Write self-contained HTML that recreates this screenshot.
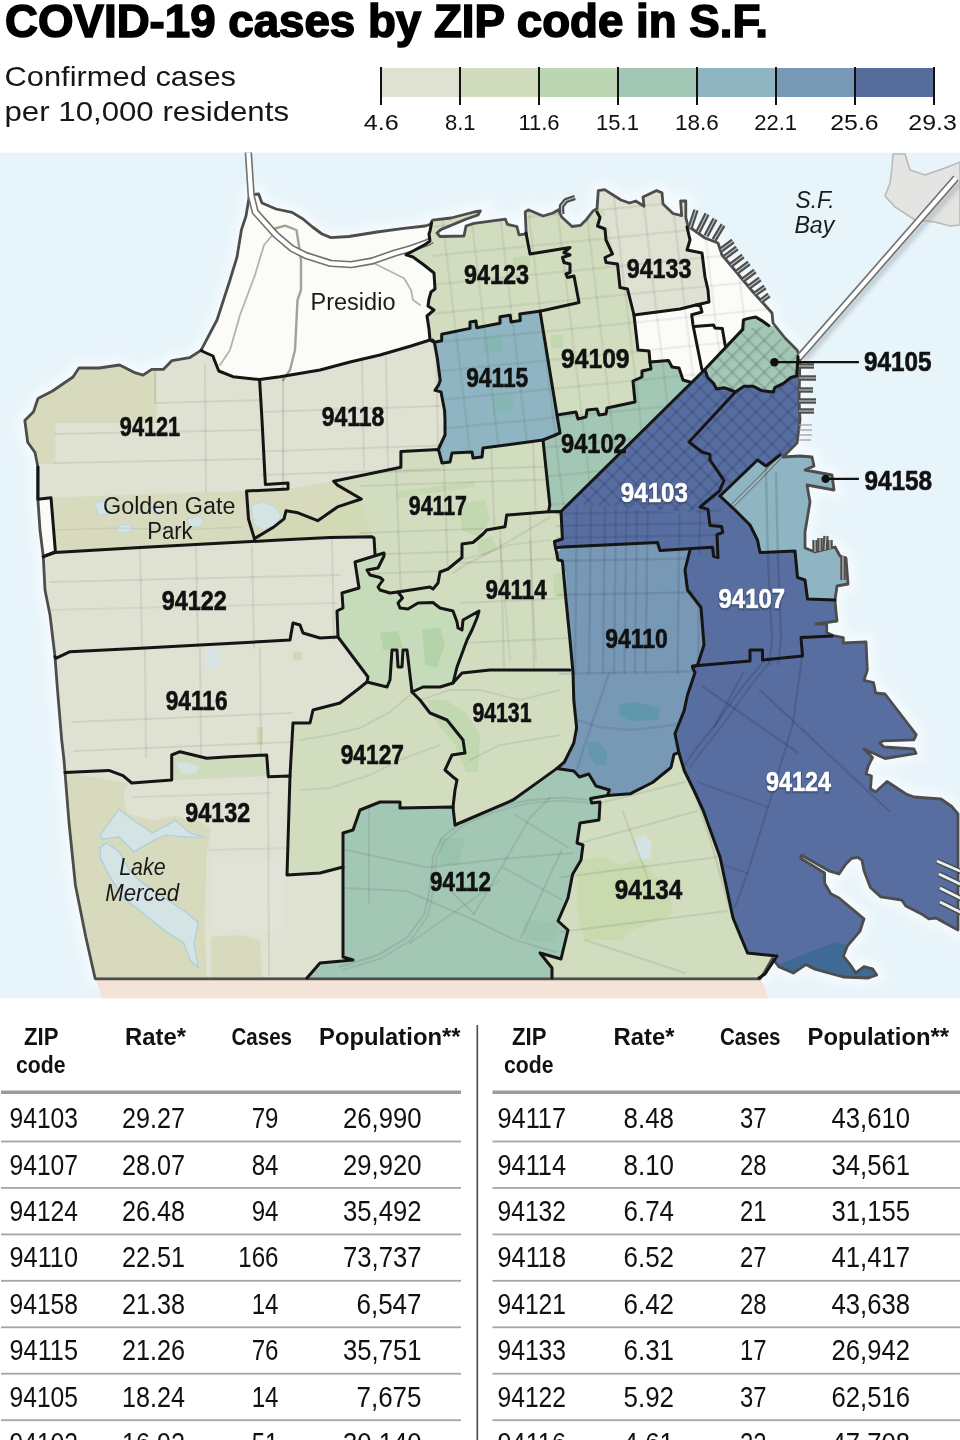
<!DOCTYPE html>
<html><head><meta charset="utf-8"><title>COVID-19 cases by ZIP code in S.F.</title>
<style>
html,body{margin:0;padding:0;background:#fff;}
body{width:960px;height:1440px;position:relative;overflow:hidden;font-family:"Liberation Sans",sans-serif;color:#111;}
.t{position:absolute;white-space:nowrap;transform-origin:0 0;}
#title{left:4px;top:-7.5px;font-size:46px;font-weight:bold;letter-spacing:0px;-webkit-text-stroke:1.6px #000;color:#000;}
.sub{left:4px;font-size:26.5px;color:#161616;}
</style></head><body>
<svg width="960" height="1000" viewBox="0 0 960 1000" style="position:absolute;left:0;top:0">
<defs><clipPath id="mapclip"><rect x="0" y="152.5" width="960" height="846"/></clipPath><clipPath id="landclip"><polygon points="249.5,195.0 258.6,194.0 262.0,203.0 276.0,209.0 292.0,212.4 303.0,219.0 312.5,227.0 322.0,234.0 331.0,237.6 349.0,236.5 377.0,232.0 404.0,228.4 425.0,226.0 430.4,224.4 432.5,220.2 451.0,218.0 474.0,212.0 480.4,210.8 478.0,215.0 465.8,219.2 440.8,229.6 437.0,233.0 440.0,236.5 464.0,236.0 466.0,226.0 474.0,223.3 505.4,219.2 507.5,224.4 516.9,226.5 519.0,234.8 526.2,233.8 525.2,211.9 528.3,209.8 543.0,216.0 553.0,213.0 558.5,209.8 561.7,217.0 572.0,226.5 580.4,225.4 586.7,219.2 593.0,211.0 597.0,208.8 598.3,190.6 604.6,189.6 621.0,200.0 629.6,203.0 635.8,201.0 644.0,206.2 643.0,197.0 656.7,190.6 662.0,192.7 663.0,204.0 673.0,213.5 681.7,215.6 680.6,201.0 685.8,201.0 685.8,217.7 688.0,226.0 705.0,238.0 718.0,243.0 722.0,255.0 733.0,268.0 743.0,280.0 753.0,292.0 763.0,303.0 772.0,313.0 773.0,323.0 785.0,338.0 797.0,350.0 800.0,357.0 799.0,400.0 800.0,420.0 797.0,443.0 783.0,457.0 800.0,456.0 812.0,457.0 814.0,466.0 805.0,470.0 832.0,475.0 834.0,490.0 807.0,485.0 810.0,502.0 807.0,520.0 805.0,532.0 805.0,548.0 815.0,552.0 835.0,547.0 840.0,556.0 846.0,558.0 848.0,584.0 837.0,586.0 835.0,600.0 836.0,612.0 837.0,621.0 816.0,624.0 826.7,624.0 826.7,632.5 833.0,635.6 843.3,637.7 843.3,643.0 866.0,641.9 867.3,670.0 864.0,680.4 873.5,682.5 875.6,693.0 885.0,694.0 916.2,734.6 914.0,739.8 883.0,740.8 879.8,743.0 884.0,747.0 914.0,749.0 916.0,753.3 885.0,758.5 864.0,749.0 872.5,757.5 868.3,765.8 866.0,774.0 871.5,776.0 870.4,788.8 875.6,792.0 887.0,781.5 906.0,794.0 914.0,797.0 926.7,798.0 941.0,799.0 951.7,806.5 958.0,813.8 958.0,862.5 958.0,930.0 945.0,923.0 936.0,918.0 928.8,918.8 922.5,914.6 905.8,906.0 901.7,900.0 880.8,896.9 870.4,887.5 864.0,870.8 862.0,860.4 858.0,857.3 851.7,858.3 845.4,864.6 839.0,874.0 828.8,870.8 801.7,855.2 800.6,858.3 824.6,873.0 824.6,883.3 830.8,893.8 839.0,898.0 864.0,918.8 860.0,931.2 847.5,945.8 843.3,956.2 851.7,966.7 855.8,972.9 864.0,966.7 872.5,968.8 876.7,975.0 868.3,978.0 843.3,977.0 814.0,968.8 805.8,964.6 793.3,973.0 778.8,966.7 772.5,958.3 764.0,973.0 760.0,978.8 95.2,978.8 85.8,937.0 75.4,885.0 69.0,822.5 65.0,772.5 64.0,760.0 61.7,740.0 57.5,690.0 55.0,656.7 50.0,615.0 45.0,590.0 43.3,556.7 40.0,530.0 37.9,499.2 37.9,467.0 35.0,452.5 27.7,442.3 24.8,420.4 33.5,411.7 38.0,398.5 52.5,391.0 73.0,377.0 79.0,368.0 99.0,368.0 119.6,365.0 134.0,372.3 143.0,375.2 151.7,369.4 163.3,369.4 172.0,360.6 189.6,357.7 201.0,350.4 217.0,320.0 230.0,280.0 237.0,257.0 241.5,229.6 246.0,216.0"/></clipPath><filter id="blur2" x="-20%" y="-20%" width="140%" height="140%"><feGaussianBlur stdDeviation="2.2"/></filter><filter id="blur6" x="-10%" y="-10%" width="120%" height="120%"><feGaussianBlur stdDeviation="5"/></filter></defs>
<g clip-path="url(#mapclip)">
<rect x="0" y="152.5" width="960" height="846" fill="#e7f4fa"/>
<polygon points="249.5,195.0 258.6,194.0 262.0,203.0 276.0,209.0 292.0,212.4 303.0,219.0 312.5,227.0 322.0,234.0 331.0,237.6 349.0,236.5 377.0,232.0 404.0,228.4 425.0,226.0 430.4,224.4 432.5,220.2 451.0,218.0 474.0,212.0 480.4,210.8 478.0,215.0 465.8,219.2 440.8,229.6 437.0,233.0 440.0,236.5 464.0,236.0 466.0,226.0 474.0,223.3 505.4,219.2 507.5,224.4 516.9,226.5 519.0,234.8 526.2,233.8 525.2,211.9 528.3,209.8 543.0,216.0 553.0,213.0 558.5,209.8 561.7,217.0 572.0,226.5 580.4,225.4 586.7,219.2 593.0,211.0 597.0,208.8 598.3,190.6 604.6,189.6 621.0,200.0 629.6,203.0 635.8,201.0 644.0,206.2 643.0,197.0 656.7,190.6 662.0,192.7 663.0,204.0 673.0,213.5 681.7,215.6 680.6,201.0 685.8,201.0 685.8,217.7 688.0,226.0 705.0,238.0 718.0,243.0 722.0,255.0 733.0,268.0 743.0,280.0 753.0,292.0 763.0,303.0 772.0,313.0 773.0,323.0 785.0,338.0 797.0,350.0 800.0,357.0 799.0,400.0 800.0,420.0 797.0,443.0 783.0,457.0 800.0,456.0 812.0,457.0 814.0,466.0 805.0,470.0 832.0,475.0 834.0,490.0 807.0,485.0 810.0,502.0 807.0,520.0 805.0,532.0 805.0,548.0 815.0,552.0 835.0,547.0 840.0,556.0 846.0,558.0 848.0,584.0 837.0,586.0 835.0,600.0 836.0,612.0 837.0,621.0 816.0,624.0 826.7,624.0 826.7,632.5 833.0,635.6 843.3,637.7 843.3,643.0 866.0,641.9 867.3,670.0 864.0,680.4 873.5,682.5 875.6,693.0 885.0,694.0 916.2,734.6 914.0,739.8 883.0,740.8 879.8,743.0 884.0,747.0 914.0,749.0 916.0,753.3 885.0,758.5 864.0,749.0 872.5,757.5 868.3,765.8 866.0,774.0 871.5,776.0 870.4,788.8 875.6,792.0 887.0,781.5 906.0,794.0 914.0,797.0 926.7,798.0 941.0,799.0 951.7,806.5 958.0,813.8 958.0,862.5 958.0,930.0 945.0,923.0 936.0,918.0 928.8,918.8 922.5,914.6 905.8,906.0 901.7,900.0 880.8,896.9 870.4,887.5 864.0,870.8 862.0,860.4 858.0,857.3 851.7,858.3 845.4,864.6 839.0,874.0 828.8,870.8 801.7,855.2 800.6,858.3 824.6,873.0 824.6,883.3 830.8,893.8 839.0,898.0 864.0,918.8 860.0,931.2 847.5,945.8 843.3,956.2 851.7,966.7 855.8,972.9 864.0,966.7 872.5,968.8 876.7,975.0 868.3,978.0 843.3,977.0 814.0,968.8 805.8,964.6 793.3,973.0 778.8,966.7 772.5,958.3 764.0,973.0 760.0,978.8 95.2,978.8 85.8,937.0 75.4,885.0 69.0,822.5 65.0,772.5 64.0,760.0 61.7,740.0 57.5,690.0 55.0,656.7 50.0,615.0 45.0,590.0 43.3,556.7 40.0,530.0 37.9,499.2 37.9,467.0 35.0,452.5 27.7,442.3 24.8,420.4 33.5,411.7 38.0,398.5 52.5,391.0 73.0,377.0 79.0,368.0 99.0,368.0 119.6,365.0 134.0,372.3 143.0,375.2 151.7,369.4 163.3,369.4 172.0,360.6 189.6,357.7 201.0,350.4 217.0,320.0 230.0,280.0 237.0,257.0 241.5,229.6 246.0,216.0" fill="none" stroke="#ffffff" stroke-width="16" stroke-opacity="0.55" filter="url(#blur6)"/>
<polygon points="893.0,154.0 905.0,154.0 910.0,170.0 925.0,175.0 945.0,168.0 960.0,162.0 960.0,225.0 950.0,226.0 935.0,222.0 915.0,220.0 895.0,207.0 885.0,196.0 890.0,183.0 892.0,168.0" fill="#e4e4e2" stroke="#b8b8b8" stroke-width="1.5"/>
<polygon points="95.2,978.8 760.0,978.8 764.0,985.0 768.0,998.5 102.5,998.5" fill="#f3e4d7" />
<polygon points="249.5,195.0 258.6,194.0 262.0,203.0 276.0,209.0 292.0,212.4 303.0,219.0 312.5,227.0 322.0,234.0 331.0,237.6 349.0,236.5 377.0,232.0 404.0,228.4 425.0,226.0 430.4,224.4 432.5,220.2 451.0,218.0 474.0,212.0 480.4,210.8 478.0,215.0 465.8,219.2 440.8,229.6 437.0,233.0 440.0,236.5 464.0,236.0 466.0,226.0 474.0,223.3 505.4,219.2 507.5,224.4 516.9,226.5 519.0,234.8 526.2,233.8 525.2,211.9 528.3,209.8 543.0,216.0 553.0,213.0 558.5,209.8 561.7,217.0 572.0,226.5 580.4,225.4 586.7,219.2 593.0,211.0 597.0,208.8 598.3,190.6 604.6,189.6 621.0,200.0 629.6,203.0 635.8,201.0 644.0,206.2 643.0,197.0 656.7,190.6 662.0,192.7 663.0,204.0 673.0,213.5 681.7,215.6 680.6,201.0 685.8,201.0 685.8,217.7 688.0,226.0 705.0,238.0 718.0,243.0 722.0,255.0 733.0,268.0 743.0,280.0 753.0,292.0 763.0,303.0 772.0,313.0 773.0,323.0 785.0,338.0 797.0,350.0 800.0,357.0 799.0,400.0 800.0,420.0 797.0,443.0 783.0,457.0 800.0,456.0 812.0,457.0 814.0,466.0 805.0,470.0 832.0,475.0 834.0,490.0 807.0,485.0 810.0,502.0 807.0,520.0 805.0,532.0 805.0,548.0 815.0,552.0 835.0,547.0 840.0,556.0 846.0,558.0 848.0,584.0 837.0,586.0 835.0,600.0 836.0,612.0 837.0,621.0 816.0,624.0 826.7,624.0 826.7,632.5 833.0,635.6 843.3,637.7 843.3,643.0 866.0,641.9 867.3,670.0 864.0,680.4 873.5,682.5 875.6,693.0 885.0,694.0 916.2,734.6 914.0,739.8 883.0,740.8 879.8,743.0 884.0,747.0 914.0,749.0 916.0,753.3 885.0,758.5 864.0,749.0 872.5,757.5 868.3,765.8 866.0,774.0 871.5,776.0 870.4,788.8 875.6,792.0 887.0,781.5 906.0,794.0 914.0,797.0 926.7,798.0 941.0,799.0 951.7,806.5 958.0,813.8 958.0,862.5 958.0,930.0 945.0,923.0 936.0,918.0 928.8,918.8 922.5,914.6 905.8,906.0 901.7,900.0 880.8,896.9 870.4,887.5 864.0,870.8 862.0,860.4 858.0,857.3 851.7,858.3 845.4,864.6 839.0,874.0 828.8,870.8 801.7,855.2 800.6,858.3 824.6,873.0 824.6,883.3 830.8,893.8 839.0,898.0 864.0,918.8 860.0,931.2 847.5,945.8 843.3,956.2 851.7,966.7 855.8,972.9 864.0,966.7 872.5,968.8 876.7,975.0 868.3,978.0 843.3,977.0 814.0,968.8 805.8,964.6 793.3,973.0 778.8,966.7 772.5,958.3 764.0,973.0 760.0,978.8 95.2,978.8 85.8,937.0 75.4,885.0 69.0,822.5 65.0,772.5 64.0,760.0 61.7,740.0 57.5,690.0 55.0,656.7 50.0,615.0 45.0,590.0 43.3,556.7 40.0,530.0 37.9,499.2 37.9,467.0 35.0,452.5 27.7,442.3 24.8,420.4 33.5,411.7 38.0,398.5 52.5,391.0 73.0,377.0 79.0,368.0 99.0,368.0 119.6,365.0 134.0,372.3 143.0,375.2 151.7,369.4 163.3,369.4 172.0,360.6 189.6,357.7 201.0,350.4 217.0,320.0 230.0,280.0 237.0,257.0 241.5,229.6 246.0,216.0" fill="#dfe1d2" />
<g clip-path="url(#landclip)">
<polygon points="200.0,150.0 445.0,150.0 431.6,222.7 430.0,231.0 429.0,234.0 430.0,241.0 426.0,244.0 413.0,251.0 406.0,254.8 413.0,257.0 424.0,265.0 434.0,273.0 435.0,289.0 431.0,292.0 429.0,299.0 428.0,306.0 434.0,310.0 427.0,316.0 429.0,329.0 430.0,340.0 411.0,346.0 380.0,355.0 350.0,362.0 320.0,370.0 280.0,376.7 259.6,379.6 233.0,376.7 218.8,371.0 214.0,359.0 213.0,356.0 204.0,352.0 201.0,350.4 150.0,300.0" fill="#fbfbf8" />
<polygon points="30.0,499.2 51.0,497.7 55.4,551.7 30.0,556.7" fill="#fbfbf8" />
<polygon points="688.0,226.0 686.0,150.0 900.0,150.0 800.0,345.0 769.0,325.7 761.7,320.6 755.8,317.0 748.5,318.4 743.4,319.9 742.7,329.4 704.8,369.5 690.0,382.0 683.0,380.0 679.0,368.0 672.0,367.0 668.5,360.4 650.0,362.0 649.0,351.0 638.0,350.0 634.0,315.0 680.0,309.0 696.0,305.0 709.0,302.0 708.0,290.0 705.6,275.0 702.5,254.0 696.0,254.0 694.0,250.0 689.0,249.0 688.0,243.8 692.0,237.5 688.0,235.4 690.0,230.0" fill="#fbfbf8" />
<polygon points="430.4,224.4 430.4,150.0 525.5,150.0 525.5,212.0 530.0,254.0 570.0,247.5 564.0,252.5 570.0,255.0 562.5,257.5 564.0,262.5 570.0,264.0 570.0,272.5 566.0,274.0 567.5,277.5 574.0,276.0 579.0,302.5 541.0,311.0 519.7,313.9 520.4,320.4 511.0,321.9 510.2,315.3 500.0,316.8 500.0,323.3 476.7,327.7 476.0,321.1 470.0,321.9 470.0,328.4 441.7,334.3 441.7,340.8 434.4,342.3 432.5,340.0 429.0,329.0 427.0,316.0 434.0,310.0 428.0,306.0 429.0,299.0 431.0,292.0 435.0,289.0 434.0,273.0 424.0,265.0 413.0,257.0 406.0,254.8 413.0,251.0 426.0,244.0 430.0,241.0 429.0,234.0 430.0,231.0" fill="#d2ddc0" />
<polygon points="525.5,150.0 597.0,150.0 597.0,206.0 606.7,214.6 598.3,218.8 599.4,226.0 608.8,226.0 613.0,252.0 603.5,255.0 604.6,262.5 615.0,263.0 620.0,287.5 627.5,289.0 634.0,315.0 638.0,350.0 649.0,351.0 650.0,362.0 651.0,369.0 642.0,371.0 642.0,377.0 633.0,381.0 635.0,402.0 607.0,408.0 606.0,414.0 599.0,415.0 597.0,409.0 587.0,410.0 586.0,417.0 578.0,419.0 576.0,412.0 557.0,415.0 540.0,311.0 579.0,302.5 574.0,276.0 567.5,277.5 566.0,274.0 570.0,272.5 570.0,264.0 564.0,262.5 562.5,257.5 570.0,255.0 564.0,252.5 570.0,247.5 530.0,254.0 525.5,212.0" fill="#d2ddc0" />
<polygon points="432.5,340.0 434.4,342.3 441.7,340.8 441.7,334.3 470.0,328.4 470.0,321.9 476.0,321.1 476.7,327.7 500.0,323.3 500.0,316.8 510.2,315.3 511.0,321.9 520.4,320.4 519.7,313.9 540.0,311.0 557.0,415.0 560.0,433.0 553.0,436.0 543.0,440.0 483.0,448.0 482.0,457.0 473.0,458.0 472.0,452.0 452.0,453.0 450.0,462.0 442.0,463.0 438.0,450.0 445.0,435.0 444.6,410.8 441.0,391.9 435.0,390.4 438.8,384.6 440.2,380.2 437.3,358.3" fill="#8fb5c2" />
<polygon points="557.0,415.0 576.0,412.0 578.0,419.0 586.0,417.0 587.0,410.0 597.0,409.0 599.0,415.0 606.0,414.0 607.0,408.0 635.0,402.0 633.0,381.0 642.0,377.0 642.0,371.0 651.0,369.0 650.0,362.0 668.5,360.4 672.0,367.0 679.0,368.0 683.0,380.0 690.0,382.0 561.0,511.5 548.6,511.7 549.8,504.8 543.0,440.0 553.0,436.0 560.0,433.0" fill="#a3c7b5" />
<polygon points="704.8,369.5 742.7,329.4 743.4,319.9 748.5,318.4 755.8,317.0 761.7,320.6 769.0,325.7 830.0,330.0 830.0,376.0 796.7,376.0 790.8,377.5 783.5,383.3 774.8,387.7 773.3,392.0 761.7,390.6 753.0,386.2 744.0,386.2 735.4,392.0 728.0,389.0 723.8,387.7 716.5,389.0 713.5,383.3 707.7,377.5" fill="#a3c7b5" />
<polygon points="735.4,392.0 744.0,386.2 753.0,386.2 761.7,390.6 773.3,392.0 774.8,387.7 783.5,383.3 790.8,377.5 796.7,376.0 830.0,376.0 830.0,450.0 800.0,456.0 783.0,457.0 780.0,455.0 766.0,466.0 757.5,460.0 720.0,496.0 735.0,510.0 750.0,525.0 757.5,540.0 760.0,552.5 795.0,551.0 797.5,577.5 805.0,580.0 807.5,599.0 870.0,600.0 870.0,636.0 832.5,636.0 801.0,637.5 802.5,656.0 762.5,660.0 762.5,650.0 750.0,650.0 750.0,661.0 692.5,666.0 697.5,665.0 704.0,645.0 701.0,607.5 687.5,590.0 685.0,570.0 690.0,550.0 712.5,547.2 713.6,556.3 718.0,557.5 717.0,534.6 722.8,532.3 721.6,526.6 710.0,525.4 708.0,509.4 700.0,507.0 719.4,491.0 724.0,480.7 710.0,460.0 710.0,454.4 702.0,452.0 689.0,442.0" fill="#586ea1" />
<polygon points="561.0,511.5 704.8,369.5 707.7,377.5 713.5,383.3 716.5,389.0 723.8,387.7 728.0,389.0 735.4,392.0 689.0,442.0 702.0,452.0 710.0,454.4 710.0,460.0 724.0,480.7 719.4,491.0 700.0,507.0 708.0,509.4 710.0,525.4 721.6,526.6 722.8,532.3 717.0,534.6 718.0,557.5 713.6,556.3 712.5,547.2 660.0,550.6 657.5,542.6 562.4,547.0 555.5,548.0 554.4,541.5 562.4,539.0" fill="#586ea1" />
<polygon points="720.0,496.0 757.5,460.0 766.0,466.0 780.0,455.0 783.0,457.0 800.0,456.0 870.0,440.0 870.0,600.0 835.0,600.0 807.5,599.0 805.0,580.0 797.5,577.5 795.0,551.0 760.0,552.5 757.5,540.0 750.0,525.0 735.0,510.0" fill="#8fb5c2" />
<polygon points="692.5,666.0 750.0,661.0 750.0,650.0 762.5,650.0 762.5,660.0 802.5,656.0 801.0,637.5 832.5,636.0 870.0,620.0 990.0,620.0 990.0,1000.0 760.0,1000.0 760.0,978.8 764.0,973.0 774.6,964.6 776.7,955.0 747.5,953.0 733.0,918.0 720.0,857.0 703.0,810.0 693.8,790.0 684.4,771.0 678.8,752.5 675.0,733.8 684.0,711.0 687.5,695.0 695.0,672.5" fill="#586ea1" />
<polygon points="778.8,964.6 793.3,958.3 837.0,941.7 847.5,945.8 843.3,956.2 851.7,966.7 855.8,972.9 864.0,966.7 872.5,968.8 876.7,975.0 868.3,978.0 843.3,977.0 814.0,968.8 805.8,964.6 793.3,973.0 778.8,966.7" fill="#3f6a95" />
<polygon points="562.4,547.0 657.5,542.6 660.0,550.6 690.5,549.2 685.0,570.0 687.5,590.0 701.0,607.5 704.0,645.0 697.5,665.0 692.5,667.5 695.0,672.5 687.5,695.0 684.0,711.0 675.0,733.8 678.8,752.5 674.0,754.4 671.0,767.5 652.5,782.5 630.0,793.8 607.5,795.6 609.4,790.0 596.0,786.0 588.8,774.0 579.4,777.0 573.8,771.0 557.0,768.4 564.4,762.0 573.8,743.0 576.6,728.0 573.8,700.0 573.0,673.0 570.0,640.0 566.0,600.0 562.4,561.0 557.8,559.8 556.7,553.0" fill="#7899b6" />
<polygon points="607.5,795.6 630.0,793.8 652.5,782.5 671.0,767.5 674.0,754.4 678.8,752.5 684.4,771.0 693.8,790.0 703.0,810.0 720.0,857.0 733.0,918.0 747.5,953.0 776.7,955.0 774.6,964.6 764.0,973.0 760.0,985.0 552.0,985.0 552.0,968.0 540.0,953.0 561.0,959.0 568.0,930.0 558.0,921.0 568.0,898.0 572.5,874.6 581.0,860.0 583.0,845.0 577.0,843.0 580.0,823.0 599.0,820.0 600.0,802.0 591.6,803.0 590.6,798.4" fill="#d2ddc0" />
<polygon points="343.0,833.0 353.0,830.0 360.0,810.0 380.0,802.0 400.0,802.0 400.0,808.0 453.0,807.0 455.0,825.0 513.0,800.0 540.0,780.6 557.0,768.4 573.8,771.0 579.4,777.0 588.8,774.0 596.0,786.0 609.4,790.0 607.5,795.6 590.6,798.4 591.6,803.0 600.0,802.0 599.0,820.0 580.0,823.0 577.0,843.0 583.0,845.0 581.0,860.0 572.5,874.6 568.0,898.0 558.0,921.0 568.0,930.0 561.0,959.0 540.0,953.0 552.0,968.0 552.0,985.0 300.0,985.0 306.7,978.3 320.0,963.0 353.0,960.0 343.0,957.0" fill="#a3c7b5" />
<polygon points="453.0,683.0 462.0,673.0 490.0,670.0 570.0,670.0 573.0,700.0 576.6,728.0 573.8,743.0 564.4,762.0 557.0,768.4 540.0,780.6 513.0,800.0 455.0,825.0 453.0,807.0 455.0,790.0 457.0,780.0 453.0,777.0 445.0,770.0 452.0,755.0 465.0,753.0 463.0,740.0 447.0,720.0 430.0,713.0 420.0,700.0 412.0,692.0 423.0,687.0 440.0,687.0" fill="#d2ddc0" />
<polygon points="290.0,776.0 293.0,723.0 310.0,723.0 313.0,710.0 340.0,703.0 357.0,690.0 367.0,682.0 387.0,687.0 390.0,680.0 392.0,650.0 397.0,650.0 398.0,667.0 402.0,667.0 403.0,650.0 407.0,650.0 412.0,692.0 420.0,700.0 430.0,713.0 447.0,720.0 463.0,740.0 465.0,753.0 452.0,755.0 445.0,770.0 453.0,777.0 457.0,780.0 455.0,790.0 453.0,807.0 400.0,808.0 400.0,802.0 380.0,802.0 360.0,810.0 353.0,830.0 343.0,833.0 343.0,867.0 320.0,873.0 287.0,875.0" fill="#d2ddc0" />
<polygon points="486.7,530.0 505.0,526.7 506.7,515.0 548.6,511.7 561.0,511.5 562.4,539.0 554.4,541.5 555.5,548.0 556.7,553.0 557.8,559.8 562.4,561.0 566.0,600.0 570.0,640.0 570.0,670.0 490.0,670.0 462.0,673.0 453.0,683.0 457.0,667.0 467.0,640.0 472.0,630.0 477.0,618.0 479.0,611.0 463.0,620.0 462.0,630.0 458.0,628.0 457.0,622.0 453.0,611.0 440.0,608.0 433.0,602.5 418.0,603.0 408.0,609.0 400.0,608.0 398.0,603.0 402.5,598.0 398.0,592.0 430.0,587.0 433.0,589.0 438.0,583.0 440.0,572.0 448.0,569.0 462.0,557.5 462.0,544.0 473.0,542.5 483.0,534.0" fill="#d2ddc0" />
<polygon points="254.4,538.6 274.2,526.7 284.0,518.8 286.0,510.8 298.0,512.8 317.7,520.7 337.5,506.9 361.3,499.0 337.5,485.1 333.6,481.2 400.9,467.3 400.9,451.5 438.5,449.5 442.0,463.0 450.0,462.0 452.0,453.0 472.0,452.0 473.0,458.0 482.0,457.0 483.0,448.0 543.0,440.0 549.8,504.8 548.6,511.7 506.7,515.0 505.0,526.7 486.7,530.0 483.0,534.0 473.0,542.5 462.0,544.0 462.0,557.5 448.0,569.0 440.0,572.0 438.0,583.0 433.0,589.0 430.0,587.0 398.0,592.0 390.0,593.0 380.0,590.0 378.0,587.0 383.0,580.0 380.0,577.5 370.0,575.0 367.0,570.0 378.0,568.0 384.0,556.0 384.0,553.0 375.0,554.0 374.0,538.0 372.0,536.7 280.0,540.0" fill="#d2ddc0" />
<polygon points="355.0,562.0 384.0,553.0 384.0,556.0 378.0,568.0 367.0,570.0 370.0,575.0 380.0,577.5 383.0,580.0 378.0,587.0 380.0,590.0 390.0,593.0 398.0,592.0 402.5,598.0 398.0,603.0 400.0,608.0 408.0,609.0 418.0,603.0 433.0,602.5 440.0,608.0 453.0,611.0 457.0,622.0 458.0,628.0 462.0,630.0 463.0,620.0 479.0,611.0 477.0,618.0 472.0,630.0 467.0,640.0 457.0,667.0 453.0,683.0 440.0,687.0 423.0,687.0 412.0,692.0 407.0,650.0 403.0,650.0 402.0,667.0 398.0,667.0 397.0,650.0 392.0,650.0 390.0,680.0 387.0,687.0 367.0,682.0 368.0,677.0 338.0,637.0 337.0,611.0 343.0,608.0 342.0,593.0 359.0,588.0" fill="#c6dbb9" />
<polygon points="51.0,497.7 150.0,494.0 246.5,491.0 288.0,489.0 333.6,481.2 337.5,485.1 361.3,499.0 372.0,536.7 280.0,540.0 140.0,547.5 55.4,551.7" fill="#cfd6ac" fill-opacity="0.55"/>
<polygon points="0.0,440.0 0.0,340.0 157.0,340.0 157.0,423.0 55.4,423.0 55.4,464.0 30.0,464.0" fill="#cfd6ac" fill-opacity="0.55"/>
<polygon points="0.0,772.5 67.0,772.5 127.5,783.0 123.0,797.5 127.5,814.0 152.5,820.4 175.4,816.0 202.5,822.5 211.0,829.0 206.7,853.8 204.6,931.0 206.7,978.8 0.0,978.8" fill="#cfd6ac" fill-opacity="0.55"/>
<polygon points="211.0,937.0 240.0,935.0 260.0,940.0 262.0,978.8 211.0,978.8" fill="#cfd6ac" fill-opacity="0.55"/>
<polygon points="380.0,633.0 398.0,631.0 403.0,648.0 383.0,650.0" fill="#9fca97" fill-opacity="0.45"/>
<polygon points="422.0,630.0 440.0,627.0 445.0,645.0 437.0,668.0 425.0,665.0" fill="#9fca97" fill-opacity="0.45"/>
<polygon points="427.0,700.0 445.0,700.0 465.0,712.0 480.0,735.0 478.0,772.0 466.0,772.0 455.0,745.0 435.0,720.0" fill="#b6d5a6" fill-opacity="0.6"/>
<polygon points="460.0,503.0 485.0,500.0 490.0,520.0 478.0,537.0 462.0,530.0" fill="#b6d5a6" fill-opacity="0.6"/>
<polygon points="396.0,492.0 474.0,481.0 475.0,487.0 397.0,498.0" fill="#bcd6a8" fill-opacity="0.6"/>
<polygon points="477.0,540.0 492.0,537.0 497.0,548.0 485.0,557.0 478.0,552.0" fill="#bcd6a8" fill-opacity="0.6"/>
<polygon points="553.0,573.0 566.0,572.0 567.0,597.0 554.0,597.0" fill="#b6d5a6" fill-opacity="0.6"/>
<polygon points="577.0,861.0 602.0,857.0 622.5,865.0 640.0,858.0 660.0,880.0 672.5,902.5 672.5,915.0 627.0,932.0 622.5,940.0 585.0,940.0 577.0,911.0" fill="#c3d9a6" fill-opacity="0.7"/>
<polygon points="636.0,838.0 645.0,835.0 652.0,843.0 650.0,858.0 641.0,860.0 637.0,850.0" fill="#d4e3e4" fill-opacity="0.9"/>
<polygon points="439.0,838.0 465.0,838.0 458.0,865.0 440.0,865.0" fill="#8fbf9f" fill-opacity="0.5"/>
<polygon points="524.0,920.0 559.0,922.0 556.0,943.0 524.0,940.0" fill="#8fbf9f" fill-opacity="0.35"/>
<polygon points="618.0,705.0 635.0,702.0 660.0,708.0 658.0,720.0 630.0,721.0 620.0,716.0" fill="#4f98a4" fill-opacity="0.6"/>
<polygon points="587.0,743.0 597.0,741.0 607.0,752.0 606.0,765.0 595.0,765.0 588.0,754.0" fill="#4f98a4" fill-opacity="0.5"/>
<polygon points="483.0,338.0 503.0,337.0 503.0,352.0 483.0,353.0" fill="#7fb8a8" fill-opacity="0.6"/>
<polygon points="493.0,395.0 513.0,394.0 513.0,412.0 493.0,413.0" fill="#7fb8a8" fill-opacity="0.6"/>
<polygon points="513.0,257.0 530.0,256.0 530.0,267.0 513.0,268.0" fill="#b6d5a6" fill-opacity="0.6"/>
<polygon points="551.0,335.0 563.0,335.0 563.0,348.0 551.0,348.0" fill="#b6d5a6" fill-opacity="0.6"/>
<polygon points="172.0,757.0 180.0,753.0 206.0,759.0 230.0,757.5 266.7,756.0 268.0,776.0 230.0,778.0 172.0,780.0" fill="#c3d8ad" fill-opacity="0.55"/>
<polygon points="176.0,764.0 186.0,762.0 198.0,766.0 196.0,773.0 182.0,774.0" fill="#d4e3e4" fill-opacity="0.9"/>
<polygon points="205.0,647.0 220.0,647.0 220.0,667.0 205.0,667.0" fill="#d7e3e4" fill-opacity="0.9"/>
<polygon points="293.0,652.0 302.0,652.0 302.0,660.0 293.0,660.0" fill="#c3d9a6" fill-opacity="0.7"/>
<polygon points="257.0,727.0 263.0,727.0 263.0,745.0 257.0,745.0" fill="#c3d9a6" fill-opacity="0.7"/>
<polygon points="211.0,858.0 285.0,858.0 285.0,930.0 211.0,930.0" fill="#e6e6dd" fill-opacity="0.5"/>
<polygon points="251.0,505.0 262.0,502.0 275.0,507.0 281.0,515.0 276.0,525.0 263.0,530.0 254.0,524.0" fill="#d4e3e4" stroke="#b9d6de" stroke-width="0.8" stroke-linejoin="round"/>
<polygon points="95.0,503.0 104.0,501.0 110.0,507.0 108.0,514.0 98.0,515.0" fill="#d4e3e4" stroke="#b9d6de" stroke-width="0.8" stroke-linejoin="round"/>
<polygon points="117.0,526.0 128.0,524.0 133.0,529.0 126.0,533.0 118.0,532.0" fill="#d4e3e4" stroke="#b9d6de" stroke-width="0.8" stroke-linejoin="round"/>
<polygon points="187.0,519.0 198.0,516.0 204.0,521.0 199.0,527.0 189.0,526.0" fill="#d4e3e4" stroke="#b9d6de" stroke-width="0.8" stroke-linejoin="round"/>
<polygon points="150.0,509.0 160.0,507.0 165.0,512.0 156.0,515.0" fill="#d4e3e4" stroke="#b9d6de" stroke-width="0.8" stroke-linejoin="round"/>
<polygon points="100.4,835.0 119.0,809.0 127.5,816.0 152.5,833.0 175.4,820.4 190.0,833.0 204.6,837.0 185.8,837.0 165.0,835.0 152.5,841.0 133.8,851.7 119.0,837.0 102.5,839.0" fill="#d4e3e4" stroke="#a9cfdc" stroke-width="1.2"/>
<polygon points="100.4,847.5 106.7,843.0 119.0,851.7 129.6,870.4 140.0,881.0 156.7,893.0 185.8,912.0 198.3,922.5 194.0,943.0 198.3,968.0 190.0,960.0 183.8,943.0 165.0,931.0 144.0,914.0 123.0,897.5 108.8,874.6 100.4,858.0" fill="#d4e3e4" stroke="#a9cfdc" stroke-width="1.2"/>
<polyline points="157.0,403.0 262.0,400.0" fill="none" stroke="#000" stroke-width="2" stroke-linejoin="round" stroke-linecap="round" stroke-opacity="0.07"/>
<polyline points="55.0,434.0 262.0,430.0" fill="none" stroke="#000" stroke-width="2" stroke-linejoin="round" stroke-linecap="round" stroke-opacity="0.07"/>
<polyline points="55.0,463.0 262.0,459.0" fill="none" stroke="#000" stroke-width="2" stroke-linejoin="round" stroke-linecap="round" stroke-opacity="0.07"/>
<polyline points="262.0,412.0 440.0,406.0" fill="none" stroke="#000" stroke-width="2" stroke-linejoin="round" stroke-linecap="round" stroke-opacity="0.07"/>
<polyline points="262.0,451.5 440.0,445.5" fill="none" stroke="#000" stroke-width="2" stroke-linejoin="round" stroke-linecap="round" stroke-opacity="0.07"/>
<polyline points="262.0,475.0 440.0,469.0" fill="none" stroke="#000" stroke-width="2" stroke-linejoin="round" stroke-linecap="round" stroke-opacity="0.07"/>
<polyline points="205.0,365.0 206.0,492.0" fill="none" stroke="#000" stroke-width="2" stroke-linejoin="round" stroke-linecap="round" stroke-opacity="0.07"/>
<polyline points="155.0,368.0 155.0,403.0" fill="none" stroke="#000" stroke-width="2" stroke-linejoin="round" stroke-linecap="round" stroke-opacity="0.07"/>
<polyline points="362.0,357.0 364.0,468.0" fill="none" stroke="#000" stroke-width="2" stroke-linejoin="round" stroke-linecap="round" stroke-opacity="0.07"/>
<polyline points="386.0,357.0 388.0,468.0" fill="none" stroke="#000" stroke-width="2" stroke-linejoin="round" stroke-linecap="round" stroke-opacity="0.07"/>
<polyline points="436.0,345.0 438.0,450.0" fill="none" stroke="#000" stroke-width="2" stroke-linejoin="round" stroke-linecap="round" stroke-opacity="0.07"/>
<polyline points="273.5,229.0 285.0,225.6 296.5,230.0 298.7,244.0 301.0,260.0 301.0,290.0 297.5,300.0 295.0,350.0 290.0,370.0 283.0,380.0" fill="none" stroke="#8f8c7c" stroke-width="2.4" stroke-linejoin="round" stroke-linecap="round" stroke-opacity="0.8"/>
<polyline points="283.0,380.0 283.0,490.0" fill="none" stroke="#000" stroke-width="2" stroke-linejoin="round" stroke-linecap="round" stroke-opacity="0.1"/>
<polyline points="272.5,235.0 264.0,245.0 255.0,275.0 240.0,315.0 230.0,350.0 220.0,365.0" fill="none" stroke="#8f8c7c" stroke-width="1.8" stroke-linejoin="round" stroke-linecap="round" stroke-opacity="0.65"/>
<polyline points="372.0,262.3 404.0,278.3 411.0,290.0 413.0,300.0 420.0,305.0" fill="none" stroke="#8f8c7c" stroke-width="1.8" stroke-linejoin="round" stroke-linecap="round" stroke-opacity="0.65"/>
<polyline points="140.0,546.0 142.0,648.0" fill="none" stroke="#000" stroke-width="2" stroke-linejoin="round" stroke-linecap="round" stroke-opacity="0.07"/>
<polyline points="196.0,546.0 198.0,648.0" fill="none" stroke="#000" stroke-width="2" stroke-linejoin="round" stroke-linecap="round" stroke-opacity="0.07"/>
<polyline points="252.0,546.0 254.0,648.0" fill="none" stroke="#000" stroke-width="2" stroke-linejoin="round" stroke-linecap="round" stroke-opacity="0.07"/>
<polyline points="332.0,538.0 334.0,640.0" fill="none" stroke="#000" stroke-width="2" stroke-linejoin="round" stroke-linecap="round" stroke-opacity="0.07"/>
<polyline points="50.0,582.0 340.0,575.0" fill="none" stroke="#000" stroke-width="2" stroke-linejoin="round" stroke-linecap="round" stroke-opacity="0.07"/>
<polyline points="48.0,610.0 337.0,603.0" fill="none" stroke="#000" stroke-width="2" stroke-linejoin="round" stroke-linecap="round" stroke-opacity="0.05"/>
<polyline points="145.0,648.0 146.0,757.0" fill="none" stroke="#000" stroke-width="2" stroke-linejoin="round" stroke-linecap="round" stroke-opacity="0.07"/>
<polyline points="200.0,648.0 201.0,757.0" fill="none" stroke="#000" stroke-width="2" stroke-linejoin="round" stroke-linecap="round" stroke-opacity="0.07"/>
<polyline points="260.0,648.0 261.0,757.0" fill="none" stroke="#000" stroke-width="2" stroke-linejoin="round" stroke-linecap="round" stroke-opacity="0.07"/>
<polyline points="72.0,722.0 292.0,713.0" fill="none" stroke="#000" stroke-width="2" stroke-linejoin="round" stroke-linecap="round" stroke-opacity="0.07"/>
<polyline points="74.0,751.0 292.0,742.0" fill="none" stroke="#000" stroke-width="2" stroke-linejoin="round" stroke-linecap="round" stroke-opacity="0.07"/>
<polyline points="133.0,797.0 270.0,793.0" fill="none" stroke="#000" stroke-width="2" stroke-linejoin="round" stroke-linecap="round" stroke-opacity="0.06"/>
<polyline points="268.0,777.0 269.0,975.0" fill="none" stroke="#000" stroke-width="2" stroke-linejoin="round" stroke-linecap="round" stroke-opacity="0.07"/>
<polyline points="210.0,850.0 290.0,848.0" fill="none" stroke="#000" stroke-width="2" stroke-linejoin="round" stroke-linecap="round" stroke-opacity="0.05"/>
<polyline points="55.0,530.0 120.0,528.0 180.0,530.0 243.0,527.0" fill="none" stroke="#000" stroke-width="1.5" stroke-linejoin="round" stroke-linecap="round" stroke-opacity="0.06"/>
<polyline points="340.0,966.7 378.0,955.0 407.0,937.5 424.6,914.0 430.4,885.0 433.0,856.0 442.0,838.0 462.5,821.0 491.7,809.0 526.7,800.4 561.7,797.5 596.7,800.4" fill="none" stroke="#000" stroke-width="2" stroke-linejoin="round" stroke-linecap="round" stroke-opacity="0.09"/>
<polyline points="343.0,970.0 381.0,958.5 410.5,940.5 428.0,916.0 434.0,886.0 436.5,857.0 445.5,840.0 465.0,824.0 493.0,812.5 527.0,803.5 561.7,800.5 596.7,803.4" fill="none" stroke="#000" stroke-width="2" stroke-linejoin="round" stroke-linecap="round" stroke-opacity="0.07"/>
<polyline points="345.8,850.0 427.5,867.5 503.0,858.8 573.0,853.0" fill="none" stroke="#000" stroke-width="2" stroke-linejoin="round" stroke-linecap="round" stroke-opacity="0.08"/>
<polyline points="345.8,888.0 407.0,891.0 433.0,902.5 474.0,920.0 515.0,940.0 556.0,952.0" fill="none" stroke="#000" stroke-width="2" stroke-linejoin="round" stroke-linecap="round" stroke-opacity="0.08"/>
<polyline points="451.0,891.0 474.0,914.0" fill="none" stroke="#000" stroke-width="2" stroke-linejoin="round" stroke-linecap="round" stroke-opacity="0.08"/>
<polyline points="474.0,914.0 503.0,864.6 529.6,818.0 550.0,797.5" fill="none" stroke="#000" stroke-width="2" stroke-linejoin="round" stroke-linecap="round" stroke-opacity="0.08"/>
<polyline points="515.0,815.0 567.5,847.0" fill="none" stroke="#000" stroke-width="2" stroke-linejoin="round" stroke-linecap="round" stroke-opacity="0.08"/>
<polyline points="503.0,867.5 561.7,899.6" fill="none" stroke="#000" stroke-width="2" stroke-linejoin="round" stroke-linecap="round" stroke-opacity="0.08"/>
<polyline points="521.0,937.5 561.7,850.0" fill="none" stroke="#000" stroke-width="2" stroke-linejoin="round" stroke-linecap="round" stroke-opacity="0.08"/>
<polyline points="369.0,809.0 369.0,902.5" fill="none" stroke="#000" stroke-width="2" stroke-linejoin="round" stroke-linecap="round" stroke-opacity="0.07"/>
<polyline points="410.0,943.0 468.0,902.5 500.0,880.0" fill="none" stroke="#000" stroke-width="2" stroke-linejoin="round" stroke-linecap="round" stroke-opacity="0.07"/>
<polyline points="743.0,673.0 714.0,727.5" fill="none" stroke="#000" stroke-width="2.2" stroke-linejoin="round" stroke-linecap="round" stroke-opacity="0.12"/>
<polyline points="764.0,661.0 740.0,690.0 715.0,725.0 695.0,750.0 685.0,765.0" fill="none" stroke="#000" stroke-width="2.2" stroke-linejoin="round" stroke-linecap="round" stroke-opacity="0.12"/>
<polyline points="770.0,661.0 746.0,692.0 721.0,727.0 701.0,752.0 690.0,767.0" fill="none" stroke="#000" stroke-width="2.2" stroke-linejoin="round" stroke-linecap="round" stroke-opacity="0.1"/>
<polyline points="802.0,657.0 793.0,723.0 768.0,807.0 747.5,873.0 735.0,907.0" fill="none" stroke="#000" stroke-width="2.2" stroke-linejoin="round" stroke-linecap="round" stroke-opacity="0.12"/>
<polyline points="702.0,686.0 797.5,752.5" fill="none" stroke="#000" stroke-width="2.2" stroke-linejoin="round" stroke-linecap="round" stroke-opacity="0.12"/>
<polyline points="760.0,690.0 889.0,811.0" fill="none" stroke="#000" stroke-width="2.2" stroke-linejoin="round" stroke-linecap="round" stroke-opacity="0.12"/>
<polyline points="697.5,782.0 768.0,807.0" fill="none" stroke="#000" stroke-width="2.2" stroke-linejoin="round" stroke-linecap="round" stroke-opacity="0.1"/>
<polyline points="722.5,865.0 747.5,873.0" fill="none" stroke="#000" stroke-width="2.2" stroke-linejoin="round" stroke-linecap="round" stroke-opacity="0.1"/>
<polyline points="681.0,761.0 697.0,800.0 712.0,845.0 727.0,900.0 737.0,930.0 747.5,952.5" fill="none" stroke="#000" stroke-width="2" stroke-linejoin="round" stroke-linecap="round" stroke-opacity="0.09"/>
<polyline points="602.0,802.5 685.0,782.0" fill="none" stroke="#000" stroke-width="2" stroke-linejoin="round" stroke-linecap="round" stroke-opacity="0.08"/>
<polyline points="577.0,844.0 697.0,811.0" fill="none" stroke="#000" stroke-width="2" stroke-linejoin="round" stroke-linecap="round" stroke-opacity="0.08"/>
<polyline points="622.5,811.0 647.5,877.5" fill="none" stroke="#000" stroke-width="2" stroke-linejoin="round" stroke-linecap="round" stroke-opacity="0.08"/>
<polyline points="560.0,877.5 718.0,857.0" fill="none" stroke="#000" stroke-width="2" stroke-linejoin="round" stroke-linecap="round" stroke-opacity="0.08"/>
<polyline points="560.0,932.0 727.0,911.0" fill="none" stroke="#000" stroke-width="2" stroke-linejoin="round" stroke-linecap="round" stroke-opacity="0.08"/>
<polyline points="585.0,940.0 685.0,973.0" fill="none" stroke="#000" stroke-width="2" stroke-linejoin="round" stroke-linecap="round" stroke-opacity="0.08"/>
<polyline points="550.0,517.0 520.0,535.0 490.0,552.0 465.0,565.0 453.0,573.0" fill="none" stroke="#000" stroke-width="2.2" stroke-linejoin="round" stroke-linecap="round" stroke-opacity="0.07"/>
<polyline points="300.0,740.0 330.0,735.0 360.0,728.0 390.0,712.0 410.0,695.0" fill="none" stroke="#000" stroke-width="2" stroke-linejoin="round" stroke-linecap="round" stroke-opacity="0.07"/>
<polyline points="300.0,790.0 330.0,788.0 370.0,775.0 400.0,760.0 440.0,745.0" fill="none" stroke="#000" stroke-width="2" stroke-linejoin="round" stroke-linecap="round" stroke-opacity="0.07"/>
<polyline points="420.0,700.0 450.0,690.0 480.0,690.0 520.0,700.0 560.0,690.0" fill="none" stroke="#000" stroke-width="2" stroke-linejoin="round" stroke-linecap="round" stroke-opacity="0.07"/>
<polyline points="470.0,760.0 500.0,745.0 530.0,740.0 560.0,735.0" fill="none" stroke="#000" stroke-width="2" stroke-linejoin="round" stroke-linecap="round" stroke-opacity="0.07"/>
<polyline points="460.0,560.0 480.0,555.0 510.0,545.0 550.0,540.0" fill="none" stroke="#000" stroke-width="2" stroke-linejoin="round" stroke-linecap="round" stroke-opacity="0.06"/>
<polyline points="500.0,540.0 505.0,600.0 510.0,660.0" fill="none" stroke="#000" stroke-width="2" stroke-linejoin="round" stroke-linecap="round" stroke-opacity="0.06"/>
<polyline points="530.0,540.0 533.0,600.0 536.0,660.0" fill="none" stroke="#000" stroke-width="2" stroke-linejoin="round" stroke-linecap="round" stroke-opacity="0.06"/>
<clipPath id="sg0"><polygon points="431.0,190.0 770.0,190.0 770.0,320.0 742.7,329.4 561.0,511.5 549.0,511.0 543.0,440.0 483.0,448.0 438.0,450.0 445.0,420.0 434.0,342.0"/></clipPath><g clip-path="url(#sg0)">
<polyline points="410.0,190.0 454.0,560.0" fill="none" stroke="#000" stroke-width="2.4" stroke-linejoin="round" stroke-linecap="round" stroke-opacity="0.06"/>
<polyline points="439.0,190.0 483.0,560.0" fill="none" stroke="#000" stroke-width="2.4" stroke-linejoin="round" stroke-linecap="round" stroke-opacity="0.06"/>
<polyline points="468.0,190.0 512.0,560.0" fill="none" stroke="#000" stroke-width="2.4" stroke-linejoin="round" stroke-linecap="round" stroke-opacity="0.06"/>
<polyline points="497.0,190.0 541.0,560.0" fill="none" stroke="#000" stroke-width="2.4" stroke-linejoin="round" stroke-linecap="round" stroke-opacity="0.06"/>
<polyline points="526.0,190.0 570.0,560.0" fill="none" stroke="#000" stroke-width="2.4" stroke-linejoin="round" stroke-linecap="round" stroke-opacity="0.06"/>
<polyline points="555.0,190.0 599.0,560.0" fill="none" stroke="#000" stroke-width="2.4" stroke-linejoin="round" stroke-linecap="round" stroke-opacity="0.06"/>
<polyline points="584.0,190.0 628.0,560.0" fill="none" stroke="#000" stroke-width="2.4" stroke-linejoin="round" stroke-linecap="round" stroke-opacity="0.06"/>
<polyline points="613.0,190.0 657.0,560.0" fill="none" stroke="#000" stroke-width="2.4" stroke-linejoin="round" stroke-linecap="round" stroke-opacity="0.06"/>
<polyline points="642.0,190.0 686.0,560.0" fill="none" stroke="#000" stroke-width="2.4" stroke-linejoin="round" stroke-linecap="round" stroke-opacity="0.06"/>
<polyline points="671.0,190.0 715.0,560.0" fill="none" stroke="#000" stroke-width="2.4" stroke-linejoin="round" stroke-linecap="round" stroke-opacity="0.06"/>
<polyline points="700.0,190.0 744.0,560.0" fill="none" stroke="#000" stroke-width="2.4" stroke-linejoin="round" stroke-linecap="round" stroke-opacity="0.06"/>
<polyline points="729.0,190.0 773.0,560.0" fill="none" stroke="#000" stroke-width="2.4" stroke-linejoin="round" stroke-linecap="round" stroke-opacity="0.06"/>
<polyline points="758.0,190.0 802.0,560.0" fill="none" stroke="#000" stroke-width="2.4" stroke-linejoin="round" stroke-linecap="round" stroke-opacity="0.06"/>
<polyline points="400.0,230.0 780.0,192.0" fill="none" stroke="#000" stroke-width="2.4" stroke-linejoin="round" stroke-linecap="round" stroke-opacity="0.06"/>
<polyline points="400.0,259.0 780.0,221.0" fill="none" stroke="#000" stroke-width="2.4" stroke-linejoin="round" stroke-linecap="round" stroke-opacity="0.06"/>
<polyline points="400.0,288.0 780.0,250.0" fill="none" stroke="#000" stroke-width="2.4" stroke-linejoin="round" stroke-linecap="round" stroke-opacity="0.06"/>
<polyline points="400.0,317.0 780.0,279.0" fill="none" stroke="#000" stroke-width="2.4" stroke-linejoin="round" stroke-linecap="round" stroke-opacity="0.06"/>
<polyline points="400.0,346.0 780.0,308.0" fill="none" stroke="#000" stroke-width="2.4" stroke-linejoin="round" stroke-linecap="round" stroke-opacity="0.06"/>
<polyline points="400.0,375.0 780.0,337.0" fill="none" stroke="#000" stroke-width="2.4" stroke-linejoin="round" stroke-linecap="round" stroke-opacity="0.06"/>
<polyline points="400.0,404.0 780.0,366.0" fill="none" stroke="#000" stroke-width="2.4" stroke-linejoin="round" stroke-linecap="round" stroke-opacity="0.06"/>
<polyline points="400.0,433.0 780.0,395.0" fill="none" stroke="#000" stroke-width="2.4" stroke-linejoin="round" stroke-linecap="round" stroke-opacity="0.06"/>
<polyline points="400.0,462.0 780.0,424.0" fill="none" stroke="#000" stroke-width="2.4" stroke-linejoin="round" stroke-linecap="round" stroke-opacity="0.06"/>
<polyline points="400.0,491.0 780.0,453.0" fill="none" stroke="#000" stroke-width="2.4" stroke-linejoin="round" stroke-linecap="round" stroke-opacity="0.06"/>
<polyline points="400.0,520.0 780.0,482.0" fill="none" stroke="#000" stroke-width="2.4" stroke-linejoin="round" stroke-linecap="round" stroke-opacity="0.06"/>
<polyline points="400.0,549.0 780.0,511.0" fill="none" stroke="#000" stroke-width="2.4" stroke-linejoin="round" stroke-linecap="round" stroke-opacity="0.06"/>
<polyline points="400.0,578.0 780.0,540.0" fill="none" stroke="#000" stroke-width="2.4" stroke-linejoin="round" stroke-linecap="round" stroke-opacity="0.06"/>
<polyline points="400.0,607.0 780.0,569.0" fill="none" stroke="#000" stroke-width="2.4" stroke-linejoin="round" stroke-linecap="round" stroke-opacity="0.06"/>
</g>
<clipPath id="sg1"><polygon points="561.0,511.5 742.7,329.4 769.0,325.7 800.0,357.0 800.0,456.0 757.5,460.0 720.0,496.0 690.0,512.0 566.0,503.0"/></clipPath><g clip-path="url(#sg1)">
<polyline points="540.0,436.5 820.0,156.5" fill="none" stroke="#0a1a40" stroke-width="2.6" stroke-linejoin="round" stroke-linecap="round" stroke-opacity="0.13"/>
<polyline points="540.0,452.5 820.0,172.5" fill="none" stroke="#0a1a40" stroke-width="2.6" stroke-linejoin="round" stroke-linecap="round" stroke-opacity="0.13"/>
<polyline points="540.0,468.5 820.0,188.5" fill="none" stroke="#0a1a40" stroke-width="2.6" stroke-linejoin="round" stroke-linecap="round" stroke-opacity="0.13"/>
<polyline points="540.0,484.5 820.0,204.5" fill="none" stroke="#0a1a40" stroke-width="2.6" stroke-linejoin="round" stroke-linecap="round" stroke-opacity="0.13"/>
<polyline points="540.0,500.5 820.0,220.5" fill="none" stroke="#0a1a40" stroke-width="2.6" stroke-linejoin="round" stroke-linecap="round" stroke-opacity="0.13"/>
<polyline points="540.0,516.5 820.0,236.5" fill="none" stroke="#0a1a40" stroke-width="2.6" stroke-linejoin="round" stroke-linecap="round" stroke-opacity="0.13"/>
<polyline points="540.0,532.5 820.0,252.5" fill="none" stroke="#0a1a40" stroke-width="2.6" stroke-linejoin="round" stroke-linecap="round" stroke-opacity="0.13"/>
<polyline points="540.0,548.5 820.0,268.5" fill="none" stroke="#0a1a40" stroke-width="2.6" stroke-linejoin="round" stroke-linecap="round" stroke-opacity="0.13"/>
<polyline points="540.0,564.5 820.0,284.5" fill="none" stroke="#0a1a40" stroke-width="2.6" stroke-linejoin="round" stroke-linecap="round" stroke-opacity="0.13"/>
<polyline points="540.0,580.5 820.0,300.5" fill="none" stroke="#0a1a40" stroke-width="2.6" stroke-linejoin="round" stroke-linecap="round" stroke-opacity="0.13"/>
<polyline points="540.0,596.5 820.0,316.5" fill="none" stroke="#0a1a40" stroke-width="2.6" stroke-linejoin="round" stroke-linecap="round" stroke-opacity="0.13"/>
<polyline points="540.0,612.5 820.0,332.5" fill="none" stroke="#0a1a40" stroke-width="2.6" stroke-linejoin="round" stroke-linecap="round" stroke-opacity="0.13"/>
<polyline points="540.0,628.5 820.0,348.5" fill="none" stroke="#0a1a40" stroke-width="2.6" stroke-linejoin="round" stroke-linecap="round" stroke-opacity="0.13"/>
<polyline points="540.0,644.5 820.0,364.5" fill="none" stroke="#0a1a40" stroke-width="2.6" stroke-linejoin="round" stroke-linecap="round" stroke-opacity="0.13"/>
<polyline points="540.0,660.5 820.0,380.5" fill="none" stroke="#0a1a40" stroke-width="2.6" stroke-linejoin="round" stroke-linecap="round" stroke-opacity="0.13"/>
<polyline points="540.0,676.5 820.0,396.5" fill="none" stroke="#0a1a40" stroke-width="2.6" stroke-linejoin="round" stroke-linecap="round" stroke-opacity="0.13"/>
<polyline points="540.0,692.5 820.0,412.5" fill="none" stroke="#0a1a40" stroke-width="2.6" stroke-linejoin="round" stroke-linecap="round" stroke-opacity="0.13"/>
<polyline points="540.0,708.5 820.0,428.5" fill="none" stroke="#0a1a40" stroke-width="2.6" stroke-linejoin="round" stroke-linecap="round" stroke-opacity="0.13"/>
<polyline points="540.0,724.5 820.0,444.5" fill="none" stroke="#0a1a40" stroke-width="2.6" stroke-linejoin="round" stroke-linecap="round" stroke-opacity="0.13"/>
<polyline points="540.0,740.5 820.0,460.5" fill="none" stroke="#0a1a40" stroke-width="2.6" stroke-linejoin="round" stroke-linecap="round" stroke-opacity="0.13"/>
<polyline points="540.0,116.0 820.0,396.0" fill="none" stroke="#0a1a40" stroke-width="2.6" stroke-linejoin="round" stroke-linecap="round" stroke-opacity="0.13"/>
<polyline points="540.0,132.0 820.0,412.0" fill="none" stroke="#0a1a40" stroke-width="2.6" stroke-linejoin="round" stroke-linecap="round" stroke-opacity="0.13"/>
<polyline points="540.0,148.0 820.0,428.0" fill="none" stroke="#0a1a40" stroke-width="2.6" stroke-linejoin="round" stroke-linecap="round" stroke-opacity="0.13"/>
<polyline points="540.0,164.0 820.0,444.0" fill="none" stroke="#0a1a40" stroke-width="2.6" stroke-linejoin="round" stroke-linecap="round" stroke-opacity="0.13"/>
<polyline points="540.0,180.0 820.0,460.0" fill="none" stroke="#0a1a40" stroke-width="2.6" stroke-linejoin="round" stroke-linecap="round" stroke-opacity="0.13"/>
<polyline points="540.0,196.0 820.0,476.0" fill="none" stroke="#0a1a40" stroke-width="2.6" stroke-linejoin="round" stroke-linecap="round" stroke-opacity="0.13"/>
<polyline points="540.0,212.0 820.0,492.0" fill="none" stroke="#0a1a40" stroke-width="2.6" stroke-linejoin="round" stroke-linecap="round" stroke-opacity="0.13"/>
<polyline points="540.0,228.0 820.0,508.0" fill="none" stroke="#0a1a40" stroke-width="2.6" stroke-linejoin="round" stroke-linecap="round" stroke-opacity="0.13"/>
<polyline points="540.0,244.0 820.0,524.0" fill="none" stroke="#0a1a40" stroke-width="2.6" stroke-linejoin="round" stroke-linecap="round" stroke-opacity="0.13"/>
<polyline points="540.0,260.0 820.0,540.0" fill="none" stroke="#0a1a40" stroke-width="2.6" stroke-linejoin="round" stroke-linecap="round" stroke-opacity="0.13"/>
<polyline points="540.0,276.0 820.0,556.0" fill="none" stroke="#0a1a40" stroke-width="2.6" stroke-linejoin="round" stroke-linecap="round" stroke-opacity="0.13"/>
<polyline points="540.0,292.0 820.0,572.0" fill="none" stroke="#0a1a40" stroke-width="2.6" stroke-linejoin="round" stroke-linecap="round" stroke-opacity="0.13"/>
<polyline points="540.0,308.0 820.0,588.0" fill="none" stroke="#0a1a40" stroke-width="2.6" stroke-linejoin="round" stroke-linecap="round" stroke-opacity="0.13"/>
<polyline points="540.0,324.0 820.0,604.0" fill="none" stroke="#0a1a40" stroke-width="2.6" stroke-linejoin="round" stroke-linecap="round" stroke-opacity="0.13"/>
<polyline points="540.0,340.0 820.0,620.0" fill="none" stroke="#0a1a40" stroke-width="2.6" stroke-linejoin="round" stroke-linecap="round" stroke-opacity="0.13"/>
<polyline points="540.0,356.0 820.0,636.0" fill="none" stroke="#0a1a40" stroke-width="2.6" stroke-linejoin="round" stroke-linecap="round" stroke-opacity="0.13"/>
<polyline points="540.0,372.0 820.0,652.0" fill="none" stroke="#0a1a40" stroke-width="2.6" stroke-linejoin="round" stroke-linecap="round" stroke-opacity="0.13"/>
<polyline points="540.0,388.0 820.0,668.0" fill="none" stroke="#0a1a40" stroke-width="2.6" stroke-linejoin="round" stroke-linecap="round" stroke-opacity="0.13"/>
<polyline points="540.0,404.0 820.0,684.0" fill="none" stroke="#0a1a40" stroke-width="2.6" stroke-linejoin="round" stroke-linecap="round" stroke-opacity="0.13"/>
<polyline points="540.0,420.0 820.0,700.0" fill="none" stroke="#0a1a40" stroke-width="2.6" stroke-linejoin="round" stroke-linecap="round" stroke-opacity="0.13"/>
<polyline points="540.0,436.0 820.0,716.0" fill="none" stroke="#0a1a40" stroke-width="2.6" stroke-linejoin="round" stroke-linecap="round" stroke-opacity="0.13"/>
<polyline points="540.0,452.0 820.0,732.0" fill="none" stroke="#0a1a40" stroke-width="2.6" stroke-linejoin="round" stroke-linecap="round" stroke-opacity="0.13"/>
</g>
<clipPath id="sg2"><polygon points="556.0,503.0 690.0,514.0 724.0,496.0 722.0,560.0 690.0,552.0 685.0,570.0 700.0,608.0 704.0,645.0 690.0,700.0 676.0,735.0 652.0,783.0 560.0,775.0"/></clipPath><g clip-path="url(#sg2)">
<polyline points="577.0,500.0 575.0,673.0" fill="none" stroke="#0a1a40" stroke-width="2.4" stroke-linejoin="round" stroke-linecap="round" stroke-opacity="0.11"/>
<polyline points="591.0,500.0 589.0,673.0" fill="none" stroke="#0a1a40" stroke-width="2.4" stroke-linejoin="round" stroke-linecap="round" stroke-opacity="0.11"/>
<polyline points="605.0,500.0 603.0,673.0" fill="none" stroke="#0a1a40" stroke-width="2.4" stroke-linejoin="round" stroke-linecap="round" stroke-opacity="0.11"/>
<polyline points="616.0,500.0 614.0,673.0" fill="none" stroke="#0a1a40" stroke-width="2.4" stroke-linejoin="round" stroke-linecap="round" stroke-opacity="0.11"/>
<polyline points="626.5,500.0 624.5,673.0" fill="none" stroke="#0a1a40" stroke-width="2.4" stroke-linejoin="round" stroke-linecap="round" stroke-opacity="0.11"/>
<polyline points="637.0,500.0 635.0,673.0" fill="none" stroke="#0a1a40" stroke-width="2.4" stroke-linejoin="round" stroke-linecap="round" stroke-opacity="0.11"/>
<polyline points="647.7,500.0 645.7,673.0" fill="none" stroke="#0a1a40" stroke-width="2.4" stroke-linejoin="round" stroke-linecap="round" stroke-opacity="0.11"/>
<polyline points="679.6,500.0 677.6,673.0" fill="none" stroke="#0a1a40" stroke-width="2.4" stroke-linejoin="round" stroke-linecap="round" stroke-opacity="0.11"/>
<polyline points="700.0,500.0 698.0,673.0" fill="none" stroke="#0a1a40" stroke-width="2.4" stroke-linejoin="round" stroke-linecap="round" stroke-opacity="0.11"/>
<polyline points="550.0,514.0 720.0,511.0" fill="none" stroke="#0a1a40" stroke-width="2.4" stroke-linejoin="round" stroke-linecap="round" stroke-opacity="0.11"/>
<polyline points="550.0,526.0 720.0,523.0" fill="none" stroke="#0a1a40" stroke-width="2.4" stroke-linejoin="round" stroke-linecap="round" stroke-opacity="0.11"/>
<polyline points="550.0,538.0 720.0,535.0" fill="none" stroke="#0a1a40" stroke-width="2.4" stroke-linejoin="round" stroke-linecap="round" stroke-opacity="0.11"/>
<polyline points="550.0,561.0 720.0,558.0" fill="none" stroke="#0a1a40" stroke-width="2.4" stroke-linejoin="round" stroke-linecap="round" stroke-opacity="0.11"/>
<polyline points="550.0,595.0 720.0,592.0" fill="none" stroke="#0a1a40" stroke-width="2.4" stroke-linejoin="round" stroke-linecap="round" stroke-opacity="0.11"/>
<polyline points="550.0,674.0 720.0,671.0" fill="none" stroke="#0a1a40" stroke-width="2.4" stroke-linejoin="round" stroke-linecap="round" stroke-opacity="0.11"/>
<polyline points="609.0,673.0 600.0,700.0 588.0,735.0 577.0,769.0" fill="none" stroke="#0a1a40" stroke-width="2.4" stroke-linejoin="round" stroke-linecap="round" stroke-opacity="0.11"/>
<polyline points="577.0,720.0 600.0,727.0 630.0,730.0 660.0,727.0 690.0,722.0" fill="none" stroke="#0a1a40" stroke-width="2.4" stroke-linejoin="round" stroke-linecap="round" stroke-opacity="0.09"/>
</g>
<clipPath id="sg3"><polygon points="254.4,538.6 274.2,526.7 284.0,518.8 286.0,510.8 298.0,512.8 317.7,520.7 337.5,506.9 361.3,499.0 337.5,485.1 333.6,481.2 400.9,467.3 400.9,451.5 438.5,449.5 442.0,463.0 450.0,462.0 452.0,453.0 472.0,452.0 473.0,458.0 482.0,457.0 483.0,448.0 543.0,440.0 549.8,504.8 548.6,511.7 506.7,515.0 505.0,526.7 486.7,530.0 483.0,534.0 473.0,542.5 462.0,544.0 462.0,557.5 448.0,569.0 440.0,572.0 438.0,583.0 433.0,589.0 430.0,587.0 398.0,592.0 390.0,593.0 380.0,590.0 378.0,587.0 383.0,580.0 380.0,577.5 370.0,575.0 367.0,570.0 378.0,568.0 384.0,556.0 384.0,553.0 375.0,554.0 374.0,538.0 372.0,536.7 280.0,540.0"/></clipPath><g clip-path="url(#sg3)">
<polyline points="395.0,440.0 401.0,600.0" fill="none" stroke="#000" stroke-width="2.2" stroke-linejoin="round" stroke-linecap="round" stroke-opacity="0.07"/>
<polyline points="443.0,440.0 449.0,600.0" fill="none" stroke="#000" stroke-width="2.2" stroke-linejoin="round" stroke-linecap="round" stroke-opacity="0.07"/>
<polyline points="491.0,440.0 497.0,600.0" fill="none" stroke="#000" stroke-width="2.2" stroke-linejoin="round" stroke-linecap="round" stroke-opacity="0.07"/>
<polyline points="533.0,440.0 539.0,600.0" fill="none" stroke="#000" stroke-width="2.2" stroke-linejoin="round" stroke-linecap="round" stroke-opacity="0.07"/>
<polyline points="360.0,473.0 560.0,466.0" fill="none" stroke="#000" stroke-width="2.2" stroke-linejoin="round" stroke-linecap="round" stroke-opacity="0.07"/>
<polyline points="360.0,486.0 560.0,479.0" fill="none" stroke="#000" stroke-width="2.2" stroke-linejoin="round" stroke-linecap="round" stroke-opacity="0.07"/>
<polyline points="360.0,533.0 560.0,526.0" fill="none" stroke="#000" stroke-width="2.2" stroke-linejoin="round" stroke-linecap="round" stroke-opacity="0.07"/>
<polyline points="360.0,555.0 560.0,548.0" fill="none" stroke="#000" stroke-width="2.2" stroke-linejoin="round" stroke-linecap="round" stroke-opacity="0.07"/>
<polyline points="360.0,574.0 560.0,567.0" fill="none" stroke="#000" stroke-width="2.2" stroke-linejoin="round" stroke-linecap="round" stroke-opacity="0.07"/>
</g>
<clipPath id="sg4"><polygon points="486.7,530.0 505.0,526.7 506.7,515.0 548.6,511.7 561.0,511.5 562.4,539.0 554.4,541.5 555.5,548.0 556.7,553.0 557.8,559.8 562.4,561.0 566.0,600.0 570.0,640.0 570.0,670.0 490.0,670.0 462.0,673.0 453.0,683.0 457.0,667.0 467.0,640.0 472.0,630.0 477.0,618.0 479.0,611.0 463.0,620.0 462.0,630.0 458.0,628.0 457.0,622.0 453.0,611.0 440.0,608.0 433.0,602.5 418.0,603.0 408.0,609.0 400.0,608.0 398.0,603.0 402.5,598.0 398.0,592.0 430.0,587.0 433.0,589.0 438.0,583.0 440.0,572.0 448.0,569.0 462.0,557.5 462.0,544.0 473.0,542.5 483.0,534.0"/></clipPath><g clip-path="url(#sg4)">
<polyline points="500.0,515.0 504.0,670.0" fill="none" stroke="#000" stroke-width="2.2" stroke-linejoin="round" stroke-linecap="round" stroke-opacity="0.07"/>
<polyline points="530.0,515.0 534.0,670.0" fill="none" stroke="#000" stroke-width="2.2" stroke-linejoin="round" stroke-linecap="round" stroke-opacity="0.07"/>
<polyline points="460.0,563.0 570.0,558.0" fill="none" stroke="#000" stroke-width="2.2" stroke-linejoin="round" stroke-linecap="round" stroke-opacity="0.07"/>
<polyline points="460.0,603.0 570.0,598.0" fill="none" stroke="#000" stroke-width="2.2" stroke-linejoin="round" stroke-linecap="round" stroke-opacity="0.07"/>
<polyline points="460.0,643.0 570.0,638.0" fill="none" stroke="#000" stroke-width="2.2" stroke-linejoin="round" stroke-linecap="round" stroke-opacity="0.07"/>
</g>
</g>
<polyline points="95.2,978.8 760.0,978.8" fill="none" stroke="#8d8d8a" stroke-width="2.2" stroke-linejoin="round" stroke-linecap="round" />
<polygon points="249.5,195.0 258.6,194.0 262.0,203.0 276.0,209.0 292.0,212.4 303.0,219.0 312.5,227.0 322.0,234.0 331.0,237.6 349.0,236.5 377.0,232.0 404.0,228.4 425.0,226.0 430.4,224.4 432.5,220.2 451.0,218.0 474.0,212.0 480.4,210.8 478.0,215.0 465.8,219.2 440.8,229.6 437.0,233.0 440.0,236.5 464.0,236.0 466.0,226.0 474.0,223.3 505.4,219.2 507.5,224.4 516.9,226.5 519.0,234.8 526.2,233.8 525.2,211.9 528.3,209.8 543.0,216.0 553.0,213.0 558.5,209.8 561.7,217.0 572.0,226.5 580.4,225.4 586.7,219.2 593.0,211.0 597.0,208.8 598.3,190.6 604.6,189.6 621.0,200.0 629.6,203.0 635.8,201.0 644.0,206.2 643.0,197.0 656.7,190.6 662.0,192.7 663.0,204.0 673.0,213.5 681.7,215.6 680.6,201.0 685.8,201.0 685.8,217.7 688.0,226.0 705.0,238.0 718.0,243.0 722.0,255.0 733.0,268.0 743.0,280.0 753.0,292.0 763.0,303.0 772.0,313.0 773.0,323.0 785.0,338.0 797.0,350.0 800.0,357.0 799.0,400.0 800.0,420.0 797.0,443.0 783.0,457.0 800.0,456.0 812.0,457.0 814.0,466.0 805.0,470.0 832.0,475.0 834.0,490.0 807.0,485.0 810.0,502.0 807.0,520.0 805.0,532.0 805.0,548.0 815.0,552.0 835.0,547.0 840.0,556.0 846.0,558.0 848.0,584.0 837.0,586.0 835.0,600.0 836.0,612.0 837.0,621.0 816.0,624.0 826.7,624.0 826.7,632.5 833.0,635.6 843.3,637.7 843.3,643.0 866.0,641.9 867.3,670.0 864.0,680.4 873.5,682.5 875.6,693.0 885.0,694.0 916.2,734.6 914.0,739.8 883.0,740.8 879.8,743.0 884.0,747.0 914.0,749.0 916.0,753.3 885.0,758.5 864.0,749.0 872.5,757.5 868.3,765.8 866.0,774.0 871.5,776.0 870.4,788.8 875.6,792.0 887.0,781.5 906.0,794.0 914.0,797.0 926.7,798.0 941.0,799.0 951.7,806.5 958.0,813.8 958.0,862.5 958.0,930.0 945.0,923.0 936.0,918.0 928.8,918.8 922.5,914.6 905.8,906.0 901.7,900.0 880.8,896.9 870.4,887.5 864.0,870.8 862.0,860.4 858.0,857.3 851.7,858.3 845.4,864.6 839.0,874.0 828.8,870.8 801.7,855.2 800.6,858.3 824.6,873.0 824.6,883.3 830.8,893.8 839.0,898.0 864.0,918.8 860.0,931.2 847.5,945.8 843.3,956.2 851.7,966.7 855.8,972.9 864.0,966.7 872.5,968.8 876.7,975.0 868.3,978.0 843.3,977.0 814.0,968.8 805.8,964.6 793.3,973.0 778.8,966.7 772.5,958.3 764.0,973.0 760.0,978.8 95.2,978.8 85.8,937.0 75.4,885.0 69.0,822.5 65.0,772.5 64.0,760.0 61.7,740.0 57.5,690.0 55.0,656.7 50.0,615.0 45.0,590.0 43.3,556.7 40.0,530.0 37.9,499.2 37.9,467.0 35.0,452.5 27.7,442.3 24.8,420.4 33.5,411.7 38.0,398.5 52.5,391.0 73.0,377.0 79.0,368.0 99.0,368.0 119.6,365.0 134.0,372.3 143.0,375.2 151.7,369.4 163.3,369.4 172.0,360.6 189.6,357.7 201.0,350.4 217.0,320.0 230.0,280.0 237.0,257.0 241.5,229.6 246.0,216.0" fill="none" stroke="#4d4d4d" stroke-width="2.8" stroke-linejoin="round"/>
<polyline points="561.7,214.0 561.5,206.0 566.0,200.5 575.0,197.5" fill="none" stroke="#4d4d4d" stroke-width="5.4" stroke-linejoin="round" stroke-linecap="butt"/>
<polyline points="690.0,228.0 696.0,210.0" fill="none" stroke="#4d4d4d" stroke-width="5.4" stroke-linejoin="round" stroke-linecap="butt"/>
<polyline points="698.0,232.0 707.0,214.0" fill="none" stroke="#4d4d4d" stroke-width="5.4" stroke-linejoin="round" stroke-linecap="butt"/>
<polyline points="706.0,236.0 715.0,219.0" fill="none" stroke="#4d4d4d" stroke-width="5.4" stroke-linejoin="round" stroke-linecap="butt"/>
<polyline points="714.0,240.0 723.0,225.0" fill="none" stroke="#4d4d4d" stroke-width="5.4" stroke-linejoin="round" stroke-linecap="butt"/>
<polyline points="721.0,250.0 733.0,241.0" fill="none" stroke="#4d4d4d" stroke-width="5.4" stroke-linejoin="round" stroke-linecap="butt"/>
<polyline points="725.0,257.0 737.0,248.0" fill="none" stroke="#4d4d4d" stroke-width="5.4" stroke-linejoin="round" stroke-linecap="butt"/>
<polyline points="731.0,265.0 743.0,256.0" fill="none" stroke="#4d4d4d" stroke-width="5.4" stroke-linejoin="round" stroke-linecap="butt"/>
<polyline points="737.0,272.0 749.0,263.0" fill="none" stroke="#4d4d4d" stroke-width="5.4" stroke-linejoin="round" stroke-linecap="butt"/>
<polyline points="743.0,280.0 755.0,271.0" fill="none" stroke="#4d4d4d" stroke-width="5.4" stroke-linejoin="round" stroke-linecap="butt"/>
<polyline points="749.0,287.0 760.0,279.0" fill="none" stroke="#4d4d4d" stroke-width="5.4" stroke-linejoin="round" stroke-linecap="butt"/>
<polyline points="755.0,294.0 765.0,287.0" fill="none" stroke="#4d4d4d" stroke-width="5.4" stroke-linejoin="round" stroke-linecap="butt"/>
<polyline points="761.0,301.0 769.0,295.0" fill="none" stroke="#4d4d4d" stroke-width="5.4" stroke-linejoin="round" stroke-linecap="butt"/>
<polyline points="799.0,366.0 814.0,366.0" fill="none" stroke="#4d4d4d" stroke-width="5.4" stroke-linejoin="round" stroke-linecap="butt"/>
<polyline points="799.0,378.0 816.0,378.0" fill="none" stroke="#4d4d4d" stroke-width="5.4" stroke-linejoin="round" stroke-linecap="butt"/>
<polyline points="799.0,390.0 813.0,390.0" fill="none" stroke="#4d4d4d" stroke-width="5.4" stroke-linejoin="round" stroke-linecap="butt"/>
<polyline points="799.0,401.0 816.0,401.0" fill="none" stroke="#4d4d4d" stroke-width="5.4" stroke-linejoin="round" stroke-linecap="butt"/>
<polyline points="799.0,411.0 814.0,411.0" fill="none" stroke="#4d4d4d" stroke-width="5.4" stroke-linejoin="round" stroke-linecap="butt"/>
<polyline points="815.0,552.0 815.0,540.0" fill="none" stroke="#4d4d4d" stroke-width="5.4" stroke-linejoin="round" stroke-linecap="butt"/>
<polyline points="820.0,551.0 820.0,538.0" fill="none" stroke="#4d4d4d" stroke-width="5.4" stroke-linejoin="round" stroke-linecap="butt"/>
<polyline points="825.0,550.0 826.0,536.0" fill="none" stroke="#4d4d4d" stroke-width="5.4" stroke-linejoin="round" stroke-linecap="butt"/>
<polyline points="830.0,549.0 830.0,540.0" fill="none" stroke="#4d4d4d" stroke-width="5.4" stroke-linejoin="round" stroke-linecap="butt"/>
<polyline points="843.0,556.0 843.0,580.0" fill="none" stroke="#4d4d4d" stroke-width="5.4" stroke-linejoin="round" stroke-linecap="butt"/>
<polyline points="561.7,214.0 561.5,206.0 566.0,200.5 575.0,197.5" fill="none" stroke="#bfc1bd" stroke-width="1.2" stroke-linejoin="round" stroke-linecap="butt"/>
<polyline points="690.0,228.0 696.0,210.0" fill="none" stroke="#bfc1bd" stroke-width="1.2" stroke-linejoin="round" stroke-linecap="butt"/>
<polyline points="698.0,232.0 707.0,214.0" fill="none" stroke="#bfc1bd" stroke-width="1.2" stroke-linejoin="round" stroke-linecap="butt"/>
<polyline points="706.0,236.0 715.0,219.0" fill="none" stroke="#bfc1bd" stroke-width="1.2" stroke-linejoin="round" stroke-linecap="butt"/>
<polyline points="714.0,240.0 723.0,225.0" fill="none" stroke="#bfc1bd" stroke-width="1.2" stroke-linejoin="round" stroke-linecap="butt"/>
<polyline points="721.0,250.0 733.0,241.0" fill="none" stroke="#bfc1bd" stroke-width="1.2" stroke-linejoin="round" stroke-linecap="butt"/>
<polyline points="725.0,257.0 737.0,248.0" fill="none" stroke="#bfc1bd" stroke-width="1.2" stroke-linejoin="round" stroke-linecap="butt"/>
<polyline points="731.0,265.0 743.0,256.0" fill="none" stroke="#bfc1bd" stroke-width="1.2" stroke-linejoin="round" stroke-linecap="butt"/>
<polyline points="737.0,272.0 749.0,263.0" fill="none" stroke="#bfc1bd" stroke-width="1.2" stroke-linejoin="round" stroke-linecap="butt"/>
<polyline points="743.0,280.0 755.0,271.0" fill="none" stroke="#bfc1bd" stroke-width="1.2" stroke-linejoin="round" stroke-linecap="butt"/>
<polyline points="749.0,287.0 760.0,279.0" fill="none" stroke="#bfc1bd" stroke-width="1.2" stroke-linejoin="round" stroke-linecap="butt"/>
<polyline points="755.0,294.0 765.0,287.0" fill="none" stroke="#bfc1bd" stroke-width="1.2" stroke-linejoin="round" stroke-linecap="butt"/>
<polyline points="761.0,301.0 769.0,295.0" fill="none" stroke="#bfc1bd" stroke-width="1.2" stroke-linejoin="round" stroke-linecap="butt"/>
<polyline points="799.0,366.0 814.0,366.0" fill="none" stroke="#bfc1bd" stroke-width="1.2" stroke-linejoin="round" stroke-linecap="butt"/>
<polyline points="799.0,378.0 816.0,378.0" fill="none" stroke="#bfc1bd" stroke-width="1.2" stroke-linejoin="round" stroke-linecap="butt"/>
<polyline points="799.0,390.0 813.0,390.0" fill="none" stroke="#bfc1bd" stroke-width="1.2" stroke-linejoin="round" stroke-linecap="butt"/>
<polyline points="799.0,401.0 816.0,401.0" fill="none" stroke="#bfc1bd" stroke-width="1.2" stroke-linejoin="round" stroke-linecap="butt"/>
<polyline points="799.0,411.0 814.0,411.0" fill="none" stroke="#bfc1bd" stroke-width="1.2" stroke-linejoin="round" stroke-linecap="butt"/>
<polyline points="815.0,552.0 815.0,540.0" fill="none" stroke="#bfc1bd" stroke-width="1.2" stroke-linejoin="round" stroke-linecap="butt"/>
<polyline points="820.0,551.0 820.0,538.0" fill="none" stroke="#bfc1bd" stroke-width="1.2" stroke-linejoin="round" stroke-linecap="butt"/>
<polyline points="825.0,550.0 826.0,536.0" fill="none" stroke="#bfc1bd" stroke-width="1.2" stroke-linejoin="round" stroke-linecap="butt"/>
<polyline points="830.0,549.0 830.0,540.0" fill="none" stroke="#bfc1bd" stroke-width="1.2" stroke-linejoin="round" stroke-linecap="butt"/>
<polyline points="843.0,556.0 843.0,580.0" fill="none" stroke="#bfc1bd" stroke-width="1.2" stroke-linejoin="round" stroke-linecap="butt"/>
<polyline points="937.0,861.0 962.0,872.0" fill="none" stroke="#4d4d4d" stroke-width="5.6" stroke-linejoin="round" stroke-linecap="butt"/>
<polyline points="937.0,861.0 962.0,872.0" fill="none" stroke="#e7f4fa" stroke-width="2.6" stroke-linejoin="round" stroke-linecap="butt"/>
<polyline points="939.0,874.0 962.0,885.0" fill="none" stroke="#4d4d4d" stroke-width="5.6" stroke-linejoin="round" stroke-linecap="butt"/>
<polyline points="939.0,874.0 962.0,885.0" fill="none" stroke="#e7f4fa" stroke-width="2.6" stroke-linejoin="round" stroke-linecap="butt"/>
<polyline points="940.0,888.0 962.0,899.0" fill="none" stroke="#4d4d4d" stroke-width="5.6" stroke-linejoin="round" stroke-linecap="butt"/>
<polyline points="940.0,888.0 962.0,899.0" fill="none" stroke="#e7f4fa" stroke-width="2.6" stroke-linejoin="round" stroke-linecap="butt"/>
<polyline points="940.0,902.0 962.0,913.0" fill="none" stroke="#4d4d4d" stroke-width="5.6" stroke-linejoin="round" stroke-linecap="butt"/>
<polyline points="940.0,902.0 962.0,913.0" fill="none" stroke="#e7f4fa" stroke-width="2.6" stroke-linejoin="round" stroke-linecap="butt"/>
<polyline points="799.0,425.0 812.0,425.0" fill="none" stroke="#9a9a9a" stroke-width="1.2" stroke-linejoin="round" stroke-linecap="butt"/>
<polyline points="799.0,430.0 812.0,430.0" fill="none" stroke="#9a9a9a" stroke-width="1.2" stroke-linejoin="round" stroke-linecap="butt"/>
<polyline points="799.0,435.0 812.0,435.0" fill="none" stroke="#9a9a9a" stroke-width="1.2" stroke-linejoin="round" stroke-linecap="butt"/>
<polyline points="799.0,440.0 811.0,440.0" fill="none" stroke="#9a9a9a" stroke-width="1.2" stroke-linejoin="round" stroke-linecap="butt"/>
<polyline points="731.0,507.0 760.0,478.0 781.0,456.0" fill="none" stroke="#000" stroke-width="4.4" stroke-linejoin="round" stroke-opacity="0.3" stroke-linecap="butt"/>
<polyline points="731.0,507.0 760.0,478.0 781.0,456.0" fill="none" stroke="#ffffff" stroke-width="1.8" stroke-linejoin="round" stroke-opacity="0.45" stroke-linecap="butt"/>
<polyline points="766.0,468.0 767.0,520.0 768.0,560.0 770.0,600.0 772.0,640.0 769.0,665.0" fill="none" stroke="#000" stroke-width="2.4" stroke-linejoin="round" stroke-opacity="0.12" stroke-linecap="butt"/>
<polyline points="776.0,472.0 777.0,520.0 778.0,560.0 780.0,600.0 781.0,640.0 778.0,665.0" fill="none" stroke="#000" stroke-width="2.4" stroke-linejoin="round" stroke-opacity="0.12" stroke-linecap="butt"/>
<polyline points="803.0,361.0 960.0,183.0" fill="none" stroke="#8f9ba3" stroke-width="6" stroke-opacity="0.45" filter="url(#blur2)"/>
<polyline points="248.2,150.0 251.2,195.8 255.2,211.9 275.8,234.8 291.9,248.5 305.6,255.4 330.8,263.4 351.4,264.6 372.0,261.0 395.0,253.0 411.0,248.5 427.0,242.8 432.0,240.0" fill="none" stroke="#707070" stroke-width="7.4" stroke-linejoin="round" stroke-linecap="butt"/>
<polyline points="248.2,150.0 251.2,195.8 255.2,211.9 275.8,234.8 291.9,248.5 305.6,255.4 330.8,263.4 351.4,264.6 372.0,261.0 395.0,253.0 411.0,248.5 427.0,242.8 432.0,240.0" fill="none" stroke="#ffffff" stroke-width="4.2" stroke-linejoin="round" stroke-linecap="butt"/>
<polyline points="798.9,357.8 956.0,178.0" fill="none" stroke="#707070" stroke-width="7.4" stroke-linejoin="round" stroke-linecap="butt"/>
<polyline points="798.9,357.8 956.0,178.0" fill="none" stroke="#ffffff" stroke-width="4.2" stroke-linejoin="round" stroke-linecap="butt"/>
<polyline points="201.0,350.4 204.0,352.0 213.0,356.0 214.0,359.0 218.8,371.0 233.0,376.7 259.6,379.6 280.0,376.7 320.0,370.0 350.0,362.0 380.0,355.0 411.0,346.0 430.0,340.0" fill="none" stroke="#151515" stroke-width="3.0" stroke-linejoin="round" stroke-linecap="round" />
<polyline points="431.6,222.7 430.0,231.0 429.0,234.0 430.0,241.0 426.0,244.0 413.0,251.0 406.0,254.8 413.0,257.0 424.0,265.0 434.0,273.0 435.0,289.0 431.0,292.0 429.0,299.0 428.0,306.0 434.0,310.0 427.0,316.0 429.0,329.0 430.0,340.0 434.4,342.3 437.3,358.3 440.2,380.2 438.8,384.6 435.0,390.4 441.0,391.9 444.6,410.8 445.0,420.0 445.0,435.0 438.0,450.0" fill="none" stroke="#151515" stroke-width="3.0" stroke-linejoin="round" stroke-linecap="round" />
<polyline points="259.6,379.6 262.0,420.0 265.4,484.6 288.0,483.0 288.0,489.0 246.5,491.0 248.5,519.0 254.4,538.6" fill="none" stroke="#151515" stroke-width="3.0" stroke-linejoin="round" stroke-linecap="round" />
<polyline points="37.9,467.0 37.9,499.2 51.0,497.7 55.4,551.7 43.3,556.7" fill="none" stroke="#151515" stroke-width="3.0" stroke-linejoin="round" stroke-linecap="round" />
<polyline points="254.4,538.6 274.2,526.7 284.0,518.8 286.0,510.8 298.0,512.8 317.7,520.7 337.5,506.9 361.3,499.0 337.5,485.1 333.6,481.2 400.9,467.3 400.9,451.5 438.5,449.5 442.0,463.0 450.0,462.0 452.0,453.0 472.0,452.0 473.0,458.0 482.0,457.0 483.0,448.0 543.0,440.0 549.8,504.8 548.6,511.7" fill="none" stroke="#151515" stroke-width="3.0" stroke-linejoin="round" stroke-linecap="round" />
<polyline points="548.6,511.7 506.7,515.0 505.0,526.7 486.7,530.0 483.0,534.0 473.0,542.5 462.0,544.0 462.0,557.5 448.0,569.0 440.0,572.0 438.0,583.0 433.0,589.0 430.0,587.0 398.0,592.0" fill="none" stroke="#151515" stroke-width="3.0" stroke-linejoin="round" stroke-linecap="round" />
<polyline points="43.3,556.7 55.0,552.5 140.0,547.5 280.0,540.0 330.0,537.5 372.0,536.7 374.0,538.0 375.0,554.0" fill="none" stroke="#151515" stroke-width="3.0" stroke-linejoin="round" stroke-linecap="round" />
<polyline points="355.0,562.0 384.0,553.0 384.0,556.0 378.0,568.0 367.0,570.0 370.0,575.0 380.0,577.5 383.0,580.0 378.0,587.0 380.0,590.0 390.0,593.0 398.0,592.0 402.5,598.0 398.0,603.0 400.0,608.0 408.0,609.0 418.0,603.0 433.0,602.5 440.0,608.0 453.0,611.0 457.0,622.0 458.0,628.0 462.0,630.0 463.0,620.0 479.0,611.0 477.0,618.0 472.0,630.0 467.0,640.0 457.0,667.0 453.0,683.0 440.0,687.0 423.0,687.0 412.0,692.0 407.0,650.0 403.0,650.0 402.0,667.0 398.0,667.0 397.0,650.0 392.0,650.0 390.0,680.0 387.0,687.0 367.0,682.0 368.0,677.0 338.0,637.0 337.0,611.0 343.0,608.0 342.0,593.0 359.0,588.0 355.0,562.0" fill="none" stroke="#151515" stroke-width="3.0" stroke-linejoin="round" stroke-linecap="round" />
<polyline points="55.0,656.7 55.8,658.3 70.0,651.7 140.0,648.3 200.0,645.0 290.0,640.0 293.0,623.0 300.0,625.0 303.0,633.0 320.0,638.0 338.0,637.0" fill="none" stroke="#151515" stroke-width="3.0" stroke-linejoin="round" stroke-linecap="round" />
<polyline points="367.0,682.0 357.0,690.0 340.0,703.0 313.0,710.0 310.0,723.0 293.0,723.0 290.0,776.0" fill="none" stroke="#151515" stroke-width="3.0" stroke-linejoin="round" stroke-linecap="round" />
<polyline points="65.0,772.5 108.8,770.4 123.0,775.6 131.7,783.0 171.7,780.0 171.7,755.0 180.0,751.7 206.7,758.3 230.0,756.7 266.7,755.0 268.3,776.7 290.0,776.0 287.0,875.0 320.0,873.0 343.0,867.0 343.0,957.0 353.0,960.0 320.0,963.0 307.0,978.0" fill="none" stroke="#151515" stroke-width="3.0" stroke-linejoin="round" stroke-linecap="round" />
<polyline points="343.0,867.0 343.0,833.0 353.0,830.0 360.0,810.0 380.0,802.0 400.0,802.0 400.0,808.0 453.0,807.0 455.0,825.0 513.0,800.0 540.0,780.6 557.0,768.4" fill="none" stroke="#151515" stroke-width="3.0" stroke-linejoin="round" stroke-linecap="round" />
<polyline points="412.0,692.0 420.0,700.0 430.0,713.0 447.0,720.0 463.0,740.0 465.0,753.0 452.0,755.0 445.0,770.0 453.0,777.0 457.0,780.0 455.0,790.0 453.0,807.0" fill="none" stroke="#151515" stroke-width="3.0" stroke-linejoin="round" stroke-linecap="round" />
<polyline points="453.0,683.0 462.0,673.0 490.0,670.0 570.0,670.0" fill="none" stroke="#151515" stroke-width="3.0" stroke-linejoin="round" stroke-linecap="round" />
<polyline points="556.7,553.0 557.8,559.8 562.4,561.0 566.0,600.0 570.0,640.0 573.0,673.0 573.8,700.0 576.6,728.0 573.8,743.0 564.4,762.0 557.0,768.4 573.8,771.0 579.4,777.0 588.8,774.0 596.0,786.0 609.4,790.0 607.5,795.6 590.6,798.4 591.6,803.0 600.0,802.0 599.0,820.0 580.0,823.0 577.0,843.0 583.0,845.0 581.0,860.0 572.5,874.6 568.0,898.0 558.0,921.0 568.0,930.0 561.0,959.0 540.0,953.0 552.0,968.0 552.0,978.0" fill="none" stroke="#151515" stroke-width="3.0" stroke-linejoin="round" stroke-linecap="round" />
<polyline points="607.5,795.6 630.0,793.8 652.5,782.5 671.0,767.5 674.0,754.4 678.8,752.5 675.0,733.8 684.0,711.0 687.5,695.0 695.0,672.5 692.5,667.5 697.5,665.0 704.0,645.0 701.0,607.5 687.5,590.0 685.0,570.0 690.0,550.0" fill="none" stroke="#151515" stroke-width="3.0" stroke-linejoin="round" stroke-linecap="round" />
<polyline points="678.8,752.5 684.4,771.0 693.8,790.0 703.0,810.0 720.0,857.0 733.0,918.0 747.5,953.0 777.0,956.0 765.0,974.0 759.0,978.0" fill="none" stroke="#151515" stroke-width="3.0" stroke-linejoin="round" stroke-linecap="round" />
<polyline points="692.5,666.0 750.0,661.0 750.0,650.0 762.5,650.0 762.5,660.0 802.5,656.0 801.0,637.5 832.5,636.0" fill="none" stroke="#151515" stroke-width="3.0" stroke-linejoin="round" stroke-linecap="round" />
<polyline points="555.5,548.0 562.4,547.0 657.5,542.6 660.0,550.6 712.5,547.2 713.6,556.3 718.0,557.5 717.0,534.6 722.8,532.3 721.6,526.6 710.0,525.4 708.0,509.4 700.0,507.0 719.4,491.0 724.0,480.7 710.0,460.0 710.0,454.4 702.0,452.0 689.0,442.0 735.4,392.0" fill="none" stroke="#151515" stroke-width="3.0" stroke-linejoin="round" stroke-linecap="round" />
<polyline points="548.6,511.7 561.0,511.5 562.4,539.0 554.4,541.5 555.5,548.0 556.7,553.0" fill="none" stroke="#151515" stroke-width="3.0" stroke-linejoin="round" stroke-linecap="round" />
<polyline points="561.0,511.5 704.8,369.5 742.7,329.4" fill="none" stroke="#151515" stroke-width="3.0" stroke-linejoin="round" stroke-linecap="round" />
<polyline points="742.7,329.4 743.4,319.9 748.5,318.4 755.8,317.0 761.7,320.6 769.0,325.7" fill="none" stroke="#151515" stroke-width="3.0" stroke-linejoin="round" stroke-linecap="round" />
<polyline points="704.8,369.5 707.7,377.5 713.5,383.3 716.5,389.0 723.8,387.7 728.0,389.0 735.4,392.0 744.0,386.2 753.0,386.2 761.7,390.6 773.3,392.0 774.8,387.7 783.5,383.3 790.8,377.5 796.7,376.0 798.0,356.4" fill="none" stroke="#151515" stroke-width="3.0" stroke-linejoin="round" stroke-linecap="round" />
<polyline points="720.0,496.0 757.5,460.0 766.0,466.0 780.0,455.0" fill="none" stroke="#151515" stroke-width="3.0" stroke-linejoin="round" stroke-linecap="round" />
<polyline points="720.0,496.0 735.0,510.0 750.0,525.0 757.5,540.0 760.0,552.5 795.0,551.0 797.5,577.5 805.0,580.0 807.5,599.0 835.0,600.0" fill="none" stroke="#151515" stroke-width="3.0" stroke-linejoin="round" stroke-linecap="round" />
<polyline points="557.0,415.0 576.0,412.0 578.0,419.0 586.0,417.0 587.0,410.0 597.0,409.0 599.0,415.0 606.0,414.0 607.0,408.0 635.0,402.0 633.0,381.0 642.0,377.0 642.0,371.0 651.0,369.0 650.0,362.0 668.5,360.4 672.0,367.0 679.0,368.0 683.0,380.0 690.0,382.0" fill="none" stroke="#151515" stroke-width="3.0" stroke-linejoin="round" stroke-linecap="round" />
<polyline points="540.0,311.0 557.0,415.0 560.0,433.0 553.0,436.0 543.0,440.0" fill="none" stroke="#151515" stroke-width="3.0" stroke-linejoin="round" stroke-linecap="round" />
<polyline points="432.5,340.0 434.4,342.3 441.7,340.8 441.7,334.3 470.0,328.4 470.0,321.9 476.0,321.1 476.7,327.7 500.0,323.3 500.0,316.8 510.2,315.3 511.0,321.9 520.4,320.4 519.7,313.9 541.0,311.0 579.0,302.5 574.0,276.0 567.5,277.5 566.0,274.0 570.0,272.5 570.0,264.0 564.0,262.5 562.5,257.5 570.0,255.0 564.0,252.5 570.0,247.5 530.0,254.0 526.0,233.0" fill="none" stroke="#151515" stroke-width="3.0" stroke-linejoin="round" stroke-linecap="round" />
<polyline points="597.0,212.0 600.0,217.5 597.5,226.0 605.0,229.0 606.0,240.0 612.5,254.0 605.0,257.5 606.0,262.5 617.5,264.0 620.0,287.5 627.5,289.0 634.0,315.0 638.0,350.0 649.0,351.0 650.0,362.0" fill="none" stroke="#151515" stroke-width="3.0" stroke-linejoin="round" stroke-linecap="round" />
<polyline points="634.0,315.0 680.0,309.0 696.0,305.0 709.0,302.0 708.0,290.0 705.0,277.0 702.0,253.0 687.0,250.0 690.0,240.0 687.0,227.0" fill="none" stroke="#151515" stroke-width="3.0" stroke-linejoin="round" stroke-linecap="round" />
<polyline points="696.0,305.0 700.4,306.0 702.0,312.0 691.7,314.8 693.0,325.0 701.9,369.5" fill="none" stroke="#151515" stroke-width="3.0" stroke-linejoin="round" stroke-linecap="round" />
<polyline points="694.6,326.5 713.5,325.0 715.0,328.0 722.3,328.6 725.2,345.4" fill="none" stroke="#151515" stroke-width="3.0" stroke-linejoin="round" stroke-linecap="round" />
</g>
<line x1="774.4" y1="362.2" x2="858.9" y2="362.2" stroke="#111" stroke-width="2.2"/>
<circle cx="774.4" cy="362.2" r="4.2" fill="#111"/>
<line x1="825.6" y1="478.9" x2="858.9" y2="478.9" stroke="#111" stroke-width="2.2"/>
<circle cx="825.6" cy="478.9" r="4.2" fill="#111"/>
<text x="463.9" y="283.5" textLength="65.1" lengthAdjust="spacingAndGlyphs" style="font-family:&quot;Liberation Sans&quot;,sans-serif;font-weight:bold;font-size:27px" fill="#111" stroke="#111" stroke-width="0.6">94123</text>
<text x="626.7" y="277.6" textLength="64.7" lengthAdjust="spacingAndGlyphs" style="font-family:&quot;Liberation Sans&quot;,sans-serif;font-weight:bold;font-size:27px" fill="#111" stroke="#111" stroke-width="0.6">94133</text>
<text x="561.0" y="368.0" textLength="68.6" lengthAdjust="spacingAndGlyphs" style="font-family:&quot;Liberation Sans&quot;,sans-serif;font-weight:bold;font-size:27px" fill="#111" stroke="#111" stroke-width="0.6">94109</text>
<text x="466.2" y="387.0" textLength="62.1" lengthAdjust="spacingAndGlyphs" style="font-family:&quot;Liberation Sans&quot;,sans-serif;font-weight:bold;font-size:27px" fill="#111" stroke="#111" stroke-width="0.6">94115</text>
<text x="864.0" y="371.3" textLength="67.6" lengthAdjust="spacingAndGlyphs" style="font-family:&quot;Liberation Sans&quot;,sans-serif;font-weight:bold;font-size:27px" fill="#111" stroke="#111" stroke-width="0.6">94105</text>
<text x="119.8" y="436.2" textLength="60.4" lengthAdjust="spacingAndGlyphs" style="font-family:&quot;Liberation Sans&quot;,sans-serif;font-weight:bold;font-size:27px" fill="#111" stroke="#111" stroke-width="0.6">94121</text>
<text x="321.7" y="426.0" textLength="62.5" lengthAdjust="spacingAndGlyphs" style="font-family:&quot;Liberation Sans&quot;,sans-serif;font-weight:bold;font-size:27px" fill="#111" stroke="#111" stroke-width="0.6">94118</text>
<text x="561.0" y="452.7" textLength="65.7" lengthAdjust="spacingAndGlyphs" style="font-family:&quot;Liberation Sans&quot;,sans-serif;font-weight:bold;font-size:27px" fill="#111" stroke="#111" stroke-width="0.6">94102</text>
<text x="620.8" y="503.2" textLength="67.1" lengthAdjust="spacingAndGlyphs" style="font-family:&quot;Liberation Sans&quot;,sans-serif;font-weight:bold;font-size:27px" fill="#26365a" stroke="#26365a" stroke-width="3" stroke-opacity="0.35">94103</text>
<text x="620.8" y="502.2" textLength="67.1" lengthAdjust="spacingAndGlyphs" style="font-family:&quot;Liberation Sans&quot;,sans-serif;font-weight:bold;font-size:27px" fill="#ffffff" stroke="#ffffff" stroke-width="0.6">94103</text>
<text x="864.4" y="489.7" textLength="67.8" lengthAdjust="spacingAndGlyphs" style="font-family:&quot;Liberation Sans&quot;,sans-serif;font-weight:bold;font-size:27px" fill="#111" stroke="#111" stroke-width="0.6">94158</text>
<text x="408.8" y="515.0" textLength="58.2" lengthAdjust="spacingAndGlyphs" style="font-family:&quot;Liberation Sans&quot;,sans-serif;font-weight:bold;font-size:27px" fill="#111" stroke="#111" stroke-width="0.6">94117</text>
<text x="485.5" y="599.4" textLength="61.3" lengthAdjust="spacingAndGlyphs" style="font-family:&quot;Liberation Sans&quot;,sans-serif;font-weight:bold;font-size:27px" fill="#111" stroke="#111" stroke-width="0.6">94114</text>
<text x="161.8" y="610.3" textLength="65.1" lengthAdjust="spacingAndGlyphs" style="font-family:&quot;Liberation Sans&quot;,sans-serif;font-weight:bold;font-size:27px" fill="#111" stroke="#111" stroke-width="0.6">94122</text>
<text x="718.5" y="609.2" textLength="66.6" lengthAdjust="spacingAndGlyphs" style="font-family:&quot;Liberation Sans&quot;,sans-serif;font-weight:bold;font-size:27px" fill="#26365a" stroke="#26365a" stroke-width="3" stroke-opacity="0.35">94107</text>
<text x="718.5" y="608.2" textLength="66.6" lengthAdjust="spacingAndGlyphs" style="font-family:&quot;Liberation Sans&quot;,sans-serif;font-weight:bold;font-size:27px" fill="#ffffff" stroke="#ffffff" stroke-width="0.6">94107</text>
<text x="605.2" y="648.2" textLength="62.7" lengthAdjust="spacingAndGlyphs" style="font-family:&quot;Liberation Sans&quot;,sans-serif;font-weight:bold;font-size:27px" fill="#111" stroke="#111" stroke-width="0.6">94110</text>
<text x="165.7" y="709.9" textLength="61.8" lengthAdjust="spacingAndGlyphs" style="font-family:&quot;Liberation Sans&quot;,sans-serif;font-weight:bold;font-size:27px" fill="#111" stroke="#111" stroke-width="0.6">94116</text>
<text x="472.4" y="721.6" textLength="59.1" lengthAdjust="spacingAndGlyphs" style="font-family:&quot;Liberation Sans&quot;,sans-serif;font-weight:bold;font-size:27px" fill="#111" stroke="#111" stroke-width="0.6">94131</text>
<text x="340.7" y="763.9" textLength="63.3" lengthAdjust="spacingAndGlyphs" style="font-family:&quot;Liberation Sans&quot;,sans-serif;font-weight:bold;font-size:27px" fill="#111" stroke="#111" stroke-width="0.6">94127</text>
<text x="766.0" y="791.9" textLength="65.0" lengthAdjust="spacingAndGlyphs" style="font-family:&quot;Liberation Sans&quot;,sans-serif;font-weight:bold;font-size:27px" fill="#26365a" stroke="#26365a" stroke-width="3" stroke-opacity="0.35">94124</text>
<text x="766.0" y="790.9" textLength="65.0" lengthAdjust="spacingAndGlyphs" style="font-family:&quot;Liberation Sans&quot;,sans-serif;font-weight:bold;font-size:27px" fill="#ffffff" stroke="#ffffff" stroke-width="0.6">94124</text>
<text x="185.2" y="822.2" textLength="65.0" lengthAdjust="spacingAndGlyphs" style="font-family:&quot;Liberation Sans&quot;,sans-serif;font-weight:bold;font-size:27px" fill="#111" stroke="#111" stroke-width="0.6">94132</text>
<text x="430.0" y="891.2" textLength="61.0" lengthAdjust="spacingAndGlyphs" style="font-family:&quot;Liberation Sans&quot;,sans-serif;font-weight:bold;font-size:27px" fill="#111" stroke="#111" stroke-width="0.6">94112</text>
<text x="614.8" y="898.6" textLength="67.4" lengthAdjust="spacingAndGlyphs" style="font-family:&quot;Liberation Sans&quot;,sans-serif;font-weight:bold;font-size:27px" fill="#111" stroke="#111" stroke-width="0.6">94134</text>
<text x="310.5" y="309.8" textLength="85.0" lengthAdjust="spacingAndGlyphs" style="font-family:&quot;Liberation Sans&quot;,sans-serif;font-size:23px" fill="#1a1a1a">Presidio</text>
<text x="103.0" y="513.8" textLength="132.5" lengthAdjust="spacingAndGlyphs" style="font-family:&quot;Liberation Sans&quot;,sans-serif;font-size:23px" fill="#1a1a1a">Golden Gate</text>
<text x="147.2" y="538.5" textLength="45.5" lengthAdjust="spacingAndGlyphs" style="font-family:&quot;Liberation Sans&quot;,sans-serif;font-size:23px" fill="#1a1a1a">Park</text>
<text x="119.2" y="875.3" textLength="46.4" lengthAdjust="spacingAndGlyphs" style="font-family:&quot;Liberation Sans&quot;,sans-serif;font-style:italic;font-size:23px" fill="#1a1a1a">Lake</text>
<text x="105.2" y="900.6" textLength="74.0" lengthAdjust="spacingAndGlyphs" style="font-family:&quot;Liberation Sans&quot;,sans-serif;font-style:italic;font-size:23px" fill="#1a1a1a">Merced</text>
<text x="795.5" y="208.4" textLength="39.0" lengthAdjust="spacingAndGlyphs" style="font-family:&quot;Liberation Sans&quot;,sans-serif;font-style:italic;font-size:23px" fill="#1a1a1a">S.F.</text>
<text x="794.4" y="233.3" textLength="40.0" lengthAdjust="spacingAndGlyphs" style="font-family:&quot;Liberation Sans&quot;,sans-serif;font-style:italic;font-size:23px" fill="#1a1a1a">Bay</text>
</svg>
<svg width="960" height="150" viewBox="0 0 960 150" style="position:absolute;left:0;top:0">
<rect x="381" y="68" width="79" height="29" fill="#dfe1d2"/>
<rect x="460" y="68" width="79" height="29" fill="#d1dcbf"/>
<rect x="539" y="68" width="79" height="29" fill="#bcd6b3"/>
<rect x="618" y="68" width="79" height="29" fill="#a3c7b5"/>
<rect x="697" y="68" width="79" height="29" fill="#8fb5c1"/>
<rect x="776" y="68" width="79" height="29" fill="#7799b5"/>
<rect x="855" y="68" width="79" height="29" fill="#566c9a"/>
<rect x="380.0" y="67" width="2" height="38" fill="#111"/>
<rect x="459.0" y="67" width="2" height="38" fill="#111"/>
<rect x="538.0" y="67" width="2" height="38" fill="#111"/>
<rect x="617.0" y="67" width="2" height="38" fill="#111"/>
<rect x="696.0" y="67" width="2" height="38" fill="#111"/>
<rect x="775.0" y="67" width="2" height="38" fill="#111"/>
<rect x="854.0" y="67" width="2" height="38" fill="#111"/>
<rect x="933.0" y="67" width="2" height="38" fill="#111"/>
<text x="381.2" y="129.8" text-anchor="middle" textLength="35.0" lengthAdjust="spacingAndGlyphs" style="font-family:&quot;Liberation Sans&quot;,sans-serif;font-size:22px" fill="#111">4.6</text>
<text x="460.2" y="129.8" text-anchor="middle" style="font-family:&quot;Liberation Sans&quot;,sans-serif;font-size:22px" fill="#111">8.1</text>
<text x="539.0" y="129.8" text-anchor="middle" style="font-family:&quot;Liberation Sans&quot;,sans-serif;font-size:22px" fill="#111">11.6</text>
<text x="617.5" y="129.8" text-anchor="middle" style="font-family:&quot;Liberation Sans&quot;,sans-serif;font-size:22px" fill="#111">15.1</text>
<text x="696.9" y="129.8" text-anchor="middle" textLength="43.8" lengthAdjust="spacingAndGlyphs" style="font-family:&quot;Liberation Sans&quot;,sans-serif;font-size:22px" fill="#111">18.6</text>
<text x="775.6" y="129.8" text-anchor="middle" style="font-family:&quot;Liberation Sans&quot;,sans-serif;font-size:22px" fill="#111">22.1</text>
<text x="854.5" y="129.8" text-anchor="middle" textLength="48.4" lengthAdjust="spacingAndGlyphs" style="font-family:&quot;Liberation Sans&quot;,sans-serif;font-size:22px" fill="#111">25.6</text>
<text x="932.6" y="129.8" text-anchor="middle" textLength="48.5" lengthAdjust="spacingAndGlyphs" style="font-family:&quot;Liberation Sans&quot;,sans-serif;font-size:22px" fill="#111">29.3</text>
<text x="5" y="37" textLength="763" lengthAdjust="spacingAndGlyphs" style="font-family:&quot;Liberation Sans&quot;,sans-serif;font-weight:bold;font-size:47px" fill="#000" stroke="#000" stroke-width="1.6">COVID-19 cases by ZIP code in S.F.</text>
<text x="4.5" y="86.3" textLength="231.5" lengthAdjust="spacingAndGlyphs" style="font-family:&quot;Liberation Sans&quot;,sans-serif;font-size:28px" fill="#161616">Confirmed cases</text>
<text x="4.5" y="120.6" textLength="284.5" lengthAdjust="spacingAndGlyphs" style="font-family:&quot;Liberation Sans&quot;,sans-serif;font-size:28px" fill="#161616">per 10,000 residents</text>
</svg>
<svg width="960" height="442" viewBox="0 998 960 442" style="position:absolute;left:0;top:998px">
<text x="24.0" y="1044.5" text-anchor="start" textLength="34.5" lengthAdjust="spacingAndGlyphs" style="font-family:&quot;Liberation Sans&quot;,sans-serif;font-weight:bold;font-size:24.5px" fill="#111">ZIP</text>
<text x="16.0" y="1073.0" text-anchor="start" textLength="49.5" lengthAdjust="spacingAndGlyphs" style="font-family:&quot;Liberation Sans&quot;,sans-serif;font-weight:bold;font-size:24.5px" fill="#111">code</text>
<text x="125.0" y="1044.5" text-anchor="start" textLength="61.0" lengthAdjust="spacingAndGlyphs" style="font-family:&quot;Liberation Sans&quot;,sans-serif;font-weight:bold;font-size:24.5px" fill="#111">Rate*</text>
<text x="231.5" y="1044.5" text-anchor="start" textLength="60.5" lengthAdjust="spacingAndGlyphs" style="font-family:&quot;Liberation Sans&quot;,sans-serif;font-weight:bold;font-size:24.5px" fill="#111">Cases</text>
<text x="319.0" y="1044.5" text-anchor="start" textLength="141.5" lengthAdjust="spacingAndGlyphs" style="font-family:&quot;Liberation Sans&quot;,sans-serif;font-weight:bold;font-size:24.5px" fill="#111">Population**</text>
<rect x="1.0" y="1090.5" width="460.0" height="3.5" fill="#9b9b9b"/>
<text x="9.5" y="1128.0" text-anchor="start" textLength="68.5" lengthAdjust="spacingAndGlyphs" style="font-family:&quot;Liberation Sans&quot;,sans-serif;font-size:29px" fill="#111">94103</text>
<text x="122.0" y="1128.0" text-anchor="start" textLength="63.0" lengthAdjust="spacingAndGlyphs" style="font-family:&quot;Liberation Sans&quot;,sans-serif;font-size:29px" fill="#111">29.27</text>
<text x="278.5" y="1128.0" text-anchor="end" textLength="26.8" lengthAdjust="spacingAndGlyphs" style="font-family:&quot;Liberation Sans&quot;,sans-serif;font-size:29px" fill="#111">79</text>
<text x="421.5" y="1128.0" text-anchor="end" textLength="78.5" lengthAdjust="spacingAndGlyphs" style="font-family:&quot;Liberation Sans&quot;,sans-serif;font-size:29px" fill="#111">26,990</text>
<rect x="1.0" y="1140.6" width="460.0" height="1.8" fill="#a5a5a5"/>
<text x="9.5" y="1174.5" text-anchor="start" textLength="68.5" lengthAdjust="spacingAndGlyphs" style="font-family:&quot;Liberation Sans&quot;,sans-serif;font-size:29px" fill="#111">94107</text>
<text x="122.0" y="1174.5" text-anchor="start" textLength="63.0" lengthAdjust="spacingAndGlyphs" style="font-family:&quot;Liberation Sans&quot;,sans-serif;font-size:29px" fill="#111">28.07</text>
<text x="278.5" y="1174.5" text-anchor="end" textLength="26.8" lengthAdjust="spacingAndGlyphs" style="font-family:&quot;Liberation Sans&quot;,sans-serif;font-size:29px" fill="#111">84</text>
<text x="421.5" y="1174.5" text-anchor="end" textLength="78.5" lengthAdjust="spacingAndGlyphs" style="font-family:&quot;Liberation Sans&quot;,sans-serif;font-size:29px" fill="#111">29,920</text>
<rect x="1.0" y="1187.0" width="460.0" height="1.8" fill="#a5a5a5"/>
<text x="9.5" y="1220.9" text-anchor="start" textLength="68.5" lengthAdjust="spacingAndGlyphs" style="font-family:&quot;Liberation Sans&quot;,sans-serif;font-size:29px" fill="#111">94124</text>
<text x="122.0" y="1220.9" text-anchor="start" textLength="63.0" lengthAdjust="spacingAndGlyphs" style="font-family:&quot;Liberation Sans&quot;,sans-serif;font-size:29px" fill="#111">26.48</text>
<text x="278.5" y="1220.9" text-anchor="end" textLength="26.8" lengthAdjust="spacingAndGlyphs" style="font-family:&quot;Liberation Sans&quot;,sans-serif;font-size:29px" fill="#111">94</text>
<text x="421.5" y="1220.9" text-anchor="end" textLength="78.5" lengthAdjust="spacingAndGlyphs" style="font-family:&quot;Liberation Sans&quot;,sans-serif;font-size:29px" fill="#111">35,492</text>
<rect x="1.0" y="1233.5" width="460.0" height="1.8" fill="#a5a5a5"/>
<text x="9.5" y="1267.3" text-anchor="start" textLength="68.5" lengthAdjust="spacingAndGlyphs" style="font-family:&quot;Liberation Sans&quot;,sans-serif;font-size:29px" fill="#111">94110</text>
<text x="122.0" y="1267.3" text-anchor="start" textLength="63.0" lengthAdjust="spacingAndGlyphs" style="font-family:&quot;Liberation Sans&quot;,sans-serif;font-size:29px" fill="#111">22.51</text>
<text x="278.5" y="1267.3" text-anchor="end" textLength="40.2" lengthAdjust="spacingAndGlyphs" style="font-family:&quot;Liberation Sans&quot;,sans-serif;font-size:29px" fill="#111">166</text>
<text x="421.5" y="1267.3" text-anchor="end" textLength="78.5" lengthAdjust="spacingAndGlyphs" style="font-family:&quot;Liberation Sans&quot;,sans-serif;font-size:29px" fill="#111">73,737</text>
<rect x="1.0" y="1279.9" width="460.0" height="1.8" fill="#a5a5a5"/>
<text x="9.5" y="1313.8" text-anchor="start" textLength="68.5" lengthAdjust="spacingAndGlyphs" style="font-family:&quot;Liberation Sans&quot;,sans-serif;font-size:29px" fill="#111">94158</text>
<text x="122.0" y="1313.8" text-anchor="start" textLength="63.0" lengthAdjust="spacingAndGlyphs" style="font-family:&quot;Liberation Sans&quot;,sans-serif;font-size:29px" fill="#111">21.38</text>
<text x="278.5" y="1313.8" text-anchor="end" textLength="26.8" lengthAdjust="spacingAndGlyphs" style="font-family:&quot;Liberation Sans&quot;,sans-serif;font-size:29px" fill="#111">14</text>
<text x="421.5" y="1313.8" text-anchor="end" textLength="65.0" lengthAdjust="spacingAndGlyphs" style="font-family:&quot;Liberation Sans&quot;,sans-serif;font-size:29px" fill="#111">6,547</text>
<rect x="1.0" y="1326.4" width="460.0" height="1.8" fill="#a5a5a5"/>
<text x="9.5" y="1360.2" text-anchor="start" textLength="68.5" lengthAdjust="spacingAndGlyphs" style="font-family:&quot;Liberation Sans&quot;,sans-serif;font-size:29px" fill="#111">94115</text>
<text x="122.0" y="1360.2" text-anchor="start" textLength="63.0" lengthAdjust="spacingAndGlyphs" style="font-family:&quot;Liberation Sans&quot;,sans-serif;font-size:29px" fill="#111">21.26</text>
<text x="278.5" y="1360.2" text-anchor="end" textLength="26.8" lengthAdjust="spacingAndGlyphs" style="font-family:&quot;Liberation Sans&quot;,sans-serif;font-size:29px" fill="#111">76</text>
<text x="421.5" y="1360.2" text-anchor="end" textLength="78.5" lengthAdjust="spacingAndGlyphs" style="font-family:&quot;Liberation Sans&quot;,sans-serif;font-size:29px" fill="#111">35,751</text>
<rect x="1.0" y="1372.8" width="460.0" height="1.8" fill="#a5a5a5"/>
<text x="9.5" y="1406.7" text-anchor="start" textLength="68.5" lengthAdjust="spacingAndGlyphs" style="font-family:&quot;Liberation Sans&quot;,sans-serif;font-size:29px" fill="#111">94105</text>
<text x="122.0" y="1406.7" text-anchor="start" textLength="63.0" lengthAdjust="spacingAndGlyphs" style="font-family:&quot;Liberation Sans&quot;,sans-serif;font-size:29px" fill="#111">18.24</text>
<text x="278.5" y="1406.7" text-anchor="end" textLength="26.8" lengthAdjust="spacingAndGlyphs" style="font-family:&quot;Liberation Sans&quot;,sans-serif;font-size:29px" fill="#111">14</text>
<text x="421.5" y="1406.7" text-anchor="end" textLength="65.0" lengthAdjust="spacingAndGlyphs" style="font-family:&quot;Liberation Sans&quot;,sans-serif;font-size:29px" fill="#111">7,675</text>
<rect x="1.0" y="1419.3" width="460.0" height="1.8" fill="#a5a5a5"/>
<text x="9.5" y="1453.2" text-anchor="start" textLength="68.5" lengthAdjust="spacingAndGlyphs" style="font-family:&quot;Liberation Sans&quot;,sans-serif;font-size:29px" fill="#111">94102</text>
<text x="122.0" y="1453.2" text-anchor="start" textLength="63.0" lengthAdjust="spacingAndGlyphs" style="font-family:&quot;Liberation Sans&quot;,sans-serif;font-size:29px" fill="#111">16.92</text>
<text x="278.5" y="1453.2" text-anchor="end" textLength="26.8" lengthAdjust="spacingAndGlyphs" style="font-family:&quot;Liberation Sans&quot;,sans-serif;font-size:29px" fill="#111">51</text>
<text x="421.5" y="1453.2" text-anchor="end" textLength="78.5" lengthAdjust="spacingAndGlyphs" style="font-family:&quot;Liberation Sans&quot;,sans-serif;font-size:29px" fill="#111">30,140</text>
<rect x="1.0" y="1465.8" width="460.0" height="1.8" fill="#a5a5a5"/>
<text x="512.0" y="1044.5" text-anchor="start" textLength="34.5" lengthAdjust="spacingAndGlyphs" style="font-family:&quot;Liberation Sans&quot;,sans-serif;font-weight:bold;font-size:24.5px" fill="#111">ZIP</text>
<text x="504.0" y="1073.0" text-anchor="start" textLength="49.5" lengthAdjust="spacingAndGlyphs" style="font-family:&quot;Liberation Sans&quot;,sans-serif;font-weight:bold;font-size:24.5px" fill="#111">code</text>
<text x="613.5" y="1044.5" text-anchor="start" textLength="61.0" lengthAdjust="spacingAndGlyphs" style="font-family:&quot;Liberation Sans&quot;,sans-serif;font-weight:bold;font-size:24.5px" fill="#111">Rate*</text>
<text x="720.0" y="1044.5" text-anchor="start" textLength="60.5" lengthAdjust="spacingAndGlyphs" style="font-family:&quot;Liberation Sans&quot;,sans-serif;font-weight:bold;font-size:24.5px" fill="#111">Cases</text>
<text x="807.5" y="1044.5" text-anchor="start" textLength="141.5" lengthAdjust="spacingAndGlyphs" style="font-family:&quot;Liberation Sans&quot;,sans-serif;font-weight:bold;font-size:24.5px" fill="#111">Population**</text>
<rect x="492.5" y="1090.5" width="467.5" height="3.5" fill="#9b9b9b"/>
<text x="497.5" y="1128.0" text-anchor="start" textLength="68.5" lengthAdjust="spacingAndGlyphs" style="font-family:&quot;Liberation Sans&quot;,sans-serif;font-size:29px" fill="#111">94117</text>
<text x="623.5" y="1128.0" text-anchor="start" textLength="50.5" lengthAdjust="spacingAndGlyphs" style="font-family:&quot;Liberation Sans&quot;,sans-serif;font-size:29px" fill="#111">8.48</text>
<text x="740.0" y="1128.0" text-anchor="start" textLength="26.5" lengthAdjust="spacingAndGlyphs" style="font-family:&quot;Liberation Sans&quot;,sans-serif;font-size:29px" fill="#111">37</text>
<text x="831.5" y="1128.0" text-anchor="start" textLength="78.5" lengthAdjust="spacingAndGlyphs" style="font-family:&quot;Liberation Sans&quot;,sans-serif;font-size:29px" fill="#111">43,610</text>
<rect x="492.5" y="1140.6" width="467.5" height="1.8" fill="#a5a5a5"/>
<text x="497.5" y="1174.5" text-anchor="start" textLength="68.5" lengthAdjust="spacingAndGlyphs" style="font-family:&quot;Liberation Sans&quot;,sans-serif;font-size:29px" fill="#111">94114</text>
<text x="623.5" y="1174.5" text-anchor="start" textLength="50.5" lengthAdjust="spacingAndGlyphs" style="font-family:&quot;Liberation Sans&quot;,sans-serif;font-size:29px" fill="#111">8.10</text>
<text x="740.0" y="1174.5" text-anchor="start" textLength="26.5" lengthAdjust="spacingAndGlyphs" style="font-family:&quot;Liberation Sans&quot;,sans-serif;font-size:29px" fill="#111">28</text>
<text x="831.5" y="1174.5" text-anchor="start" textLength="78.5" lengthAdjust="spacingAndGlyphs" style="font-family:&quot;Liberation Sans&quot;,sans-serif;font-size:29px" fill="#111">34,561</text>
<rect x="492.5" y="1187.0" width="467.5" height="1.8" fill="#a5a5a5"/>
<text x="497.5" y="1220.9" text-anchor="start" textLength="68.5" lengthAdjust="spacingAndGlyphs" style="font-family:&quot;Liberation Sans&quot;,sans-serif;font-size:29px" fill="#111">94132</text>
<text x="623.5" y="1220.9" text-anchor="start" textLength="50.5" lengthAdjust="spacingAndGlyphs" style="font-family:&quot;Liberation Sans&quot;,sans-serif;font-size:29px" fill="#111">6.74</text>
<text x="740.0" y="1220.9" text-anchor="start" textLength="26.5" lengthAdjust="spacingAndGlyphs" style="font-family:&quot;Liberation Sans&quot;,sans-serif;font-size:29px" fill="#111">21</text>
<text x="831.5" y="1220.9" text-anchor="start" textLength="78.5" lengthAdjust="spacingAndGlyphs" style="font-family:&quot;Liberation Sans&quot;,sans-serif;font-size:29px" fill="#111">31,155</text>
<rect x="492.5" y="1233.5" width="467.5" height="1.8" fill="#a5a5a5"/>
<text x="497.5" y="1267.3" text-anchor="start" textLength="68.5" lengthAdjust="spacingAndGlyphs" style="font-family:&quot;Liberation Sans&quot;,sans-serif;font-size:29px" fill="#111">94118</text>
<text x="623.5" y="1267.3" text-anchor="start" textLength="50.5" lengthAdjust="spacingAndGlyphs" style="font-family:&quot;Liberation Sans&quot;,sans-serif;font-size:29px" fill="#111">6.52</text>
<text x="740.0" y="1267.3" text-anchor="start" textLength="26.5" lengthAdjust="spacingAndGlyphs" style="font-family:&quot;Liberation Sans&quot;,sans-serif;font-size:29px" fill="#111">27</text>
<text x="831.5" y="1267.3" text-anchor="start" textLength="78.5" lengthAdjust="spacingAndGlyphs" style="font-family:&quot;Liberation Sans&quot;,sans-serif;font-size:29px" fill="#111">41,417</text>
<rect x="492.5" y="1279.9" width="467.5" height="1.8" fill="#a5a5a5"/>
<text x="497.5" y="1313.8" text-anchor="start" textLength="68.5" lengthAdjust="spacingAndGlyphs" style="font-family:&quot;Liberation Sans&quot;,sans-serif;font-size:29px" fill="#111">94121</text>
<text x="623.5" y="1313.8" text-anchor="start" textLength="50.5" lengthAdjust="spacingAndGlyphs" style="font-family:&quot;Liberation Sans&quot;,sans-serif;font-size:29px" fill="#111">6.42</text>
<text x="740.0" y="1313.8" text-anchor="start" textLength="26.5" lengthAdjust="spacingAndGlyphs" style="font-family:&quot;Liberation Sans&quot;,sans-serif;font-size:29px" fill="#111">28</text>
<text x="831.5" y="1313.8" text-anchor="start" textLength="78.5" lengthAdjust="spacingAndGlyphs" style="font-family:&quot;Liberation Sans&quot;,sans-serif;font-size:29px" fill="#111">43,638</text>
<rect x="492.5" y="1326.4" width="467.5" height="1.8" fill="#a5a5a5"/>
<text x="497.5" y="1360.2" text-anchor="start" textLength="68.5" lengthAdjust="spacingAndGlyphs" style="font-family:&quot;Liberation Sans&quot;,sans-serif;font-size:29px" fill="#111">94133</text>
<text x="623.5" y="1360.2" text-anchor="start" textLength="50.5" lengthAdjust="spacingAndGlyphs" style="font-family:&quot;Liberation Sans&quot;,sans-serif;font-size:29px" fill="#111">6.31</text>
<text x="740.0" y="1360.2" text-anchor="start" textLength="26.5" lengthAdjust="spacingAndGlyphs" style="font-family:&quot;Liberation Sans&quot;,sans-serif;font-size:29px" fill="#111">17</text>
<text x="831.5" y="1360.2" text-anchor="start" textLength="78.5" lengthAdjust="spacingAndGlyphs" style="font-family:&quot;Liberation Sans&quot;,sans-serif;font-size:29px" fill="#111">26,942</text>
<rect x="492.5" y="1372.8" width="467.5" height="1.8" fill="#a5a5a5"/>
<text x="497.5" y="1406.7" text-anchor="start" textLength="68.5" lengthAdjust="spacingAndGlyphs" style="font-family:&quot;Liberation Sans&quot;,sans-serif;font-size:29px" fill="#111">94122</text>
<text x="623.5" y="1406.7" text-anchor="start" textLength="50.5" lengthAdjust="spacingAndGlyphs" style="font-family:&quot;Liberation Sans&quot;,sans-serif;font-size:29px" fill="#111">5.92</text>
<text x="740.0" y="1406.7" text-anchor="start" textLength="26.5" lengthAdjust="spacingAndGlyphs" style="font-family:&quot;Liberation Sans&quot;,sans-serif;font-size:29px" fill="#111">37</text>
<text x="831.5" y="1406.7" text-anchor="start" textLength="78.5" lengthAdjust="spacingAndGlyphs" style="font-family:&quot;Liberation Sans&quot;,sans-serif;font-size:29px" fill="#111">62,516</text>
<rect x="492.5" y="1419.3" width="467.5" height="1.8" fill="#a5a5a5"/>
<text x="497.5" y="1453.2" text-anchor="start" textLength="68.5" lengthAdjust="spacingAndGlyphs" style="font-family:&quot;Liberation Sans&quot;,sans-serif;font-size:29px" fill="#111">94116</text>
<text x="623.5" y="1453.2" text-anchor="start" textLength="50.5" lengthAdjust="spacingAndGlyphs" style="font-family:&quot;Liberation Sans&quot;,sans-serif;font-size:29px" fill="#111">4.61</text>
<text x="740.0" y="1453.2" text-anchor="start" textLength="26.5" lengthAdjust="spacingAndGlyphs" style="font-family:&quot;Liberation Sans&quot;,sans-serif;font-size:29px" fill="#111">22</text>
<text x="831.5" y="1453.2" text-anchor="start" textLength="78.5" lengthAdjust="spacingAndGlyphs" style="font-family:&quot;Liberation Sans&quot;,sans-serif;font-size:29px" fill="#111">47,708</text>
<rect x="492.5" y="1465.8" width="467.5" height="1.8" fill="#a5a5a5"/>
<rect x="476.5" y="1025" width="1.6" height="420" fill="#4a4a4a"/>
</svg>
</body></html>
